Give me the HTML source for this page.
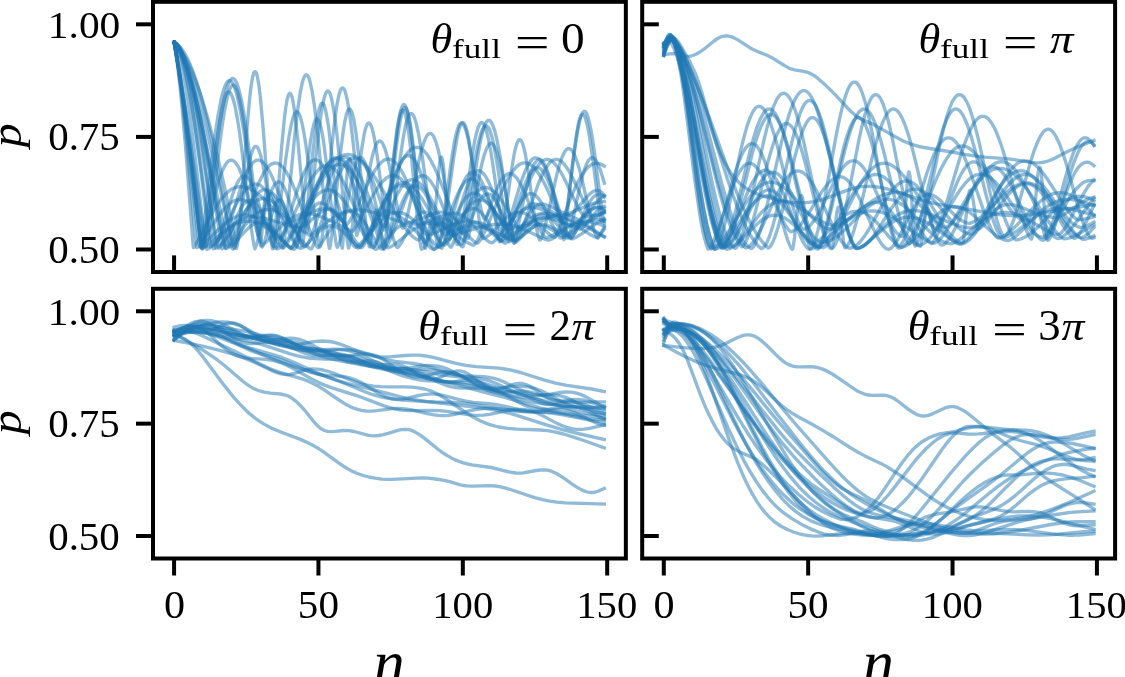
<!DOCTYPE html>
<html><head><meta charset="utf-8"><style>html,body{margin:0;padding:0;background:#fff;overflow:hidden}svg{display:block}</style></head>
<body><svg width="1125" height="677" viewBox="0 0 1125 677">
<rect width="100%" height="100%" fill="#fff"/>
<clipPath id="cTL"><rect x="153.0" y="1.8" width="472.85" height="270.2"/></clipPath>
<clipPath id="cTR"><rect x="642.2" y="1.8" width="472.89999999999986" height="270.2"/></clipPath>
<clipPath id="cBL"><rect x="153.0" y="288.8" width="472.85" height="269.7"/></clipPath>
<clipPath id="cBR"><rect x="642.2" y="288.8" width="472.89999999999986" height="269.7"/></clipPath>
<g clip-path="url(#cTL)" fill="none" stroke="#1f77b4" stroke-opacity="0.5" stroke-width="3.35" stroke-linejoin="round" stroke-linecap="square">
<polyline points="174.1,42.3 177.0,59.2 179.8,77.7 185.6,118.7 191.8,167.3 201.1,247.1 201.9,242.8 203.3,231.6 212.7,152.7 215.6,131.5 218.1,115.3 221.0,100.2 222.4,94.2 223.9,89.2 225.3,85.4 226.8,82.6 227.8,81.3 228.6,80.8 229.3,80.6 230.4,80.8 231.8,82.1 233.3,84.5 234.7,87.9 236.2,92.4 237.6,97.9 240.5,111.7 243.4,128.7 246.3,148.3 255.6,220.6 257.8,235.3 259.3,230.2 264.3,207.7 266.5,199.9 267.9,196.1 269.0,194.3 270.1,193.3 271.2,193.5 272.2,194.6 273.3,196.9 274.4,200.2 275.5,204.5 277.3,213.7 281.6,240.1 283.1,247.4 283.4,246.9 283.8,244.7 285.6,229.9 294.3,140.2 296.4,120.3 298.2,105.9 300.4,91.8 302.2,83.1 303.3,79.3 304.4,76.6 305.5,75.1 306.2,74.8 306.9,74.9 308.0,76.1 309.1,78.5 310.1,82.0 312.3,92.2 314.5,106.5 316.3,121.1 318.4,141.2 326.7,228.1 328.2,240.9 329.3,248.3 329.6,248.4 330.4,245.3 332.5,229.7 339.7,159.9 343.0,133.0 344.8,121.8 346.2,115.2 347.3,111.8 348.0,110.2 348.8,109.3 349.5,109.0 350.2,109.3 350.9,110.2 351.7,111.8 352.7,115.2 354.2,121.7 356.0,132.9 359.2,159.5 366.1,225.4 367.9,239.4 369.3,246.9 369.7,247.0 370.4,243.4 373.3,222.6 374.4,216.1 375.5,211.7 376.2,210.3 376.6,210.1 376.9,210.2 377.6,211.4 378.7,215.5 380.2,224.6 383.1,246.4 383.4,248.3 383.8,249.2 384.1,248.0 385.6,239.3 387.0,227.4 393.9,158.6 397.1,130.7 398.9,118.9 400.4,111.8 401.5,108.0 402.2,106.3 402.9,105.1 403.6,104.5 404.3,104.6 405.1,105.3 405.8,106.5 406.9,109.6 408.3,115.6 410.1,126.1 413.4,151.8 421.0,223.5 422.8,236.9 423.5,240.9 423.8,242.4 424.2,243.1 426.0,240.2 432.1,229.0 435.0,224.5 436.8,222.3 438.6,220.7 440.1,219.7 441.9,219.0 443.7,218.8 445.5,219.1 447.3,219.8 449.5,221.1 453.4,224.3 462.8,233.5 463.9,229.3 465.3,221.6 473.6,168.2 475.8,155.6 477.6,146.4 479.8,137.3 481.6,131.5 482.7,129.0 483.8,127.1 484.8,126.0 485.6,125.7 486.6,125.8 487.7,126.7 488.8,128.3 489.9,130.7 492.1,137.6 494.2,147.3 496.0,157.1 498.2,170.6 506.5,228.9 507.9,237.4 509.0,241.9 510.5,241.0 512.6,239.1 523.5,228.3 528.9,223.7 531.8,221.7 534.6,220.2 537.5,219.0 540.4,218.3 543.3,217.9 546.2,217.9 549.4,218.3 553.1,219.1 560.6,221.6 578.3,228.6 580.1,229.1 580.8,229.0 582.7,227.8 585.2,225.3 593.5,214.8 597.1,210.8 598.9,209.2 600.7,207.9 602.5,206.9 604.3,206.3"/>
<polyline points="174.1,42.3 176.2,53.9 178.8,69.1 183.8,104.0 188.9,143.9 199.0,229.2 201.5,248.3 201.9,248.9 204.0,247.7 206.9,245.6 222.8,232.3 227.1,229.0 231.1,226.4 235.4,224.1 239.8,222.4 244.1,221.4 248.1,221.1 252.0,221.4 256.0,222.4 260.3,224.1 264.7,226.5 268.6,229.1 273.0,232.4 289.2,246.2 292.8,248.7 293.9,249.3 294.3,249.2 295.7,247.3 297.9,242.9 306.5,220.6 308.7,215.6 310.5,212.0 312.7,208.4 314.8,205.7 317.0,203.9 318.1,203.4 319.5,203.0 321.0,202.9 322.8,203.3 324.6,204.1 326.7,205.6 330.4,208.8 338.3,217.1 341.9,220.7 345.2,223.3 346.2,224.0 347.0,224.2 348.0,223.2 349.8,220.8 353.5,214.5 357.1,207.1 368.3,182.6 371.5,176.2 374.8,170.6 378.4,165.4 381.6,162.0 383.4,160.6 384.9,159.8 386.3,159.3 387.7,159.1 389.5,159.1 391.4,159.7 393.2,160.7 395.0,162.1 396.8,164.0 398.6,166.3 402.2,172.1 405.4,178.6 409.0,186.9 419.9,215.2 423.5,224.1 427.1,231.5 428.5,233.7 429.6,234.8 431.1,234.5 434.3,233.2 449.8,225.8 456.7,223.0 460.3,222.0 463.5,221.3 466.8,221.0 470.0,221.2 473.3,221.7 476.2,222.6 479.1,223.9 482.3,225.7 488.4,230.1 500.7,240.5 504.0,242.7 505.0,243.2 505.4,243.1 507.6,241.6 510.1,239.2 521.7,226.3 527.1,221.0 530.0,218.6 532.8,216.7 535.4,215.3 538.3,214.2 541.1,213.5 544.4,213.2 548.0,213.4 551.6,214.0 558.1,215.8 578.0,222.6 582.7,224.0 584.8,224.4 589.5,221.7 604.3,211.6"/>
<polyline points="174.1,42.3 176.6,54.2 179.5,69.7 182.4,87.3 185.3,106.7 190.7,147.3 201.1,231.9 203.3,247.0 204.7,239.6 206.6,227.3 217.0,144.0 219.5,126.0 222.1,110.2 225.0,95.6 227.5,86.3 228.9,82.5 230.0,80.5 231.5,78.8 232.5,78.4 233.6,78.6 235.1,80.0 236.5,82.7 238.0,86.5 240.5,95.9 243.4,110.6 245.9,126.4 248.4,144.5 258.9,227.7 260.7,239.9 262.1,247.0 263.2,245.3 265.0,240.1 271.2,216.8 274.0,207.5 275.5,204.0 276.9,201.5 278.4,200.0 279.5,199.7 280.5,200.0 282.0,201.5 283.1,203.3 284.5,206.5 287.4,215.5 294.3,241.4 296.1,246.2 296.8,247.2 297.1,246.4 298.6,239.3 300.4,226.4 307.3,165.6 310.5,141.0 312.3,130.7 313.8,124.6 314.8,121.5 315.6,120.0 316.3,119.2 317.0,118.9 317.7,119.2 318.4,120.0 319.2,121.5 320.2,124.6 321.7,130.7 323.5,141.0 326.7,165.6 334.0,229.3 335.8,241.6 336.5,245.2 337.2,247.3 337.9,246.5 339.0,244.0 340.1,240.4 341.5,234.4 344.1,221.5 350.2,187.1 353.5,172.1 355.3,165.7 356.7,161.9 358.5,158.7 360.0,157.6 360.7,157.4 361.4,157.6 362.1,158.1 363.2,159.3 364.6,161.9 366.4,166.6 368.3,172.5 370.1,179.4 376.9,209.5 379.4,219.4 380.9,224.1 382.3,227.8 383.4,229.6 383.8,230.0 384.1,229.9 384.9,227.5 385.6,223.9 387.4,211.7 394.2,151.2 397.1,129.3 398.6,121.0 400.0,114.7 401.5,111.0 402.2,110.1 402.5,109.9 403.3,110.1 404.0,110.9 404.7,112.4 405.4,114.6 406.9,121.1 408.3,130.2 409.8,141.5 411.6,158.3 418.4,229.8 420.2,243.7 421.0,247.5 421.3,248.8 421.7,249.2 422.4,248.8 423.5,247.9 425.6,245.0 433.2,231.1 436.1,226.7 437.6,225.0 439.0,223.7 440.4,222.9 441.9,222.6 443.3,222.7 444.8,223.3 446.2,224.4 447.7,225.8 450.9,230.3 456.7,240.0 459.2,243.8 460.7,245.5 461.7,246.4 462.8,246.9 463.2,246.3 463.9,244.0 465.0,239.4 467.2,227.5 476.2,166.0 478.3,152.7 480.1,142.9 482.3,133.3 484.5,126.1 485.6,123.5 486.6,121.7 487.7,120.6 488.4,120.3 489.2,120.3 490.3,120.9 491.3,122.2 492.4,124.3 494.6,130.4 496.7,139.0 498.9,149.8 501.1,162.3 508.3,209.4 510.8,224.6 513.0,235.4 514.1,239.3 514.8,240.9 516.6,233.3 524.9,194.2 527.4,183.8 529.6,176.1 532.1,168.8 534.6,163.4 536.1,161.4 537.2,160.3 538.3,159.7 539.3,159.5 540.4,159.7 541.5,160.3 542.6,161.4 544.0,163.4 546.6,168.7 549.1,176.0 551.2,183.6 553.8,193.8 562.1,232.3 563.9,239.7 564.6,236.1 566.0,225.2 572.5,164.2 575.8,138.4 577.6,127.6 579.0,121.2 580.1,117.7 580.8,116.1 581.6,115.0 582.3,114.5 583.0,114.5 583.7,115.0 584.5,116.0 585.5,118.6 587.3,125.2 589.1,134.4 592.4,156.2 598.9,207.4 601.1,220.9 601.4,222.2 601.8,222.1 602.9,221.3 604.3,219.7"/>
<polyline points="174.1,42.3 176.6,55.9 179.5,73.0 184.9,109.6 190.0,147.9 199.7,227.0 202.6,248.9 203.3,246.7 204.0,243.1 206.2,228.8 215.6,150.7 217.7,134.3 219.9,120.0 222.1,108.3 224.2,99.5 225.3,96.3 226.4,93.9 227.5,92.5 228.6,91.9 229.7,92.2 230.7,93.3 231.8,95.4 232.9,98.3 235.1,106.5 237.6,119.9 239.8,134.1 241.9,150.5 251.3,228.5 253.5,242.8 254.2,246.5 254.9,248.9 256.0,246.2 257.4,241.4 265.7,208.4 267.9,200.8 269.7,195.1 271.9,189.6 274.0,185.4 275.1,183.9 276.2,182.9 277.3,182.2 278.4,182.0 279.1,182.0 280.2,182.5 281.3,183.4 282.4,184.6 284.5,188.3 286.7,193.4 288.8,199.8 291.0,207.1 299.7,239.6 301.5,245.0 301.8,245.8 302.2,245.6 302.9,242.6 303.6,238.3 305.5,224.4 312.7,153.4 315.9,126.4 317.7,115.2 319.2,108.8 320.6,104.7 321.3,103.6 322.1,103.1 322.8,103.3 323.5,104.2 324.2,105.6 325.3,109.0 326.7,115.7 328.6,127.1 331.8,154.7 339.0,227.0 340.8,241.1 341.5,245.4 342.3,248.2 342.6,246.1 343.0,240.8 346.6,179.2 348.0,164.2 348.8,160.3 349.1,159.4 349.5,159.0 349.8,159.4 350.2,160.3 350.9,163.9 351.7,169.8 353.1,186.6 356.0,229.1 356.3,233.6 356.7,235.5 357.4,233.9 358.1,231.5 360.3,222.0 368.6,174.4 370.4,165.0 372.2,156.9 374.0,150.3 375.8,145.3 377.6,142.2 378.7,141.2 379.4,141.0 380.2,141.0 381.2,141.7 382.0,142.5 383.1,144.3 384.9,148.7 386.7,154.7 388.5,162.0 390.3,170.4 398.9,215.6 401.5,225.5 402.2,227.4 402.5,228.1 402.9,228.2 404.0,226.5 405.1,223.6 408.0,213.0 410.5,201.6 418.1,164.6 420.2,155.2 422.0,148.3 424.2,141.5 426.0,137.3 427.1,135.5 428.2,134.2 429.3,133.5 430.0,133.3 431.1,133.6 431.8,134.1 432.9,135.3 433.9,137.2 436.1,142.6 438.3,150.2 440.4,159.8 442.6,171.0 450.2,215.4 452.7,228.9 455.2,239.6 456.3,242.9 457.0,244.3 457.4,244.5 457.8,244.1 458.5,242.5 459.6,238.8 462.1,226.0 464.6,209.5 471.1,162.5 472.9,151.0 474.7,141.0 476.5,132.9 478.3,127.0 479.4,124.6 480.1,123.5 480.9,122.8 481.6,122.5 482.3,122.6 483.0,123.1 483.8,124.1 484.8,126.2 486.6,131.6 488.4,139.2 490.3,148.6 492.1,159.5 498.9,206.3 501.4,221.8 504.0,233.7 505.0,237.0 505.8,238.5 506.1,238.8 507.6,237.4 509.7,234.1 518.4,218.0 522.4,211.6 524.5,208.9 526.3,207.0 528.1,205.6 530.3,204.5 532.1,204.0 534.3,203.9 536.5,204.2 538.6,204.9 542.2,206.5 554.5,213.2 558.8,215.2 561.4,216.1 563.5,215.5 567.9,214.0 585.9,206.4 592.4,203.9 598.9,202.1 604.3,201.5"/>
<polyline points="174.1,42.3 175.9,53.2 178.0,69.2 179.8,84.9 182.0,106.3 185.6,147.4 193.2,245.9 193.6,247.5 195.4,244.7 197.9,240.3 208.4,220.1 212.7,212.2 217.0,205.1 221.0,199.4 225.7,194.0 228.2,191.7 230.4,190.0 232.5,188.7 235.1,187.6 237.2,187.0 239.8,186.7 243.7,186.9 248.1,188.2 252.4,190.3 257.1,193.4 261.4,196.8 266.5,201.4 272.2,207.0 284.9,219.9 287.4,222.2 288.1,222.6 291.0,221.7 295.3,220.0 312.7,211.8 318.4,209.6 321.7,208.9 324.9,208.7 327.8,209.2 330.7,210.2 333.2,211.7 335.4,213.4 337.6,215.5 340.1,218.3 344.8,224.7 355.6,241.3 358.5,244.8 359.6,245.8 360.3,246.1 361.4,245.1 362.8,243.2 366.1,237.7 369.7,230.5 380.9,206.7 384.5,199.9 387.7,194.5 391.4,189.6 395.0,186.0 396.8,184.6 398.6,183.6 400.0,183.1 401.8,182.7 403.3,182.7 405.1,182.9 406.9,183.4 408.7,184.3 412.3,186.9 416.3,191.0 419.9,195.7 423.5,201.0 435.7,221.5 439.4,227.2 443.0,232.1 444.4,233.6 445.5,234.4 446.2,234.3 447.3,233.6 449.8,231.1 452.7,227.7 460.7,217.4 463.2,214.5 465.3,212.4 467.9,210.4 470.0,209.2 472.2,208.6 474.4,208.6 476.5,209.2 478.7,210.5 480.9,212.3 483.0,214.8 487.4,221.0 496.7,236.8 499.3,240.0 500.4,241.0 501.1,241.3 502.2,240.3 503.2,238.8 505.8,234.3 516.2,210.8 518.8,205.7 520.9,201.9 523.5,198.3 525.6,195.9 528.1,194.2 530.3,193.6 532.5,193.8 535.0,195.1 537.5,197.4 540.1,200.7 542.6,204.8 545.1,209.5 553.1,226.2 555.9,231.8 558.8,236.4 559.9,237.6 560.6,238.1 562.8,237.4 565.7,235.8 580.1,224.9 583.7,222.7 587.3,220.9 591.7,219.7 595.6,219.3 600.0,219.8 604.3,221.1"/>
<polyline points="174.1,42.3 175.9,51.7 178.0,65.3 180.2,81.6 182.4,100.2 186.3,139.1 194.3,224.3 196.8,247.5 197.2,247.4 198.6,246.0 201.9,241.9 217.0,218.4 221.0,212.9 224.6,208.5 228.6,204.5 232.5,201.7 234.7,200.6 236.5,200.0 238.3,199.6 240.1,199.5 241.9,199.7 243.7,200.1 245.5,200.8 247.7,202.0 251.3,204.7 255.3,208.7 258.9,213.2 262.9,218.8 274.4,237.3 278.0,242.7 281.3,246.9 282.4,248.0 283.1,248.3 284.2,247.3 285.6,245.6 288.8,240.7 292.5,234.5 304.7,212.1 308.7,205.6 312.3,200.5 316.3,195.9 318.4,193.9 320.2,192.5 322.4,191.3 324.2,190.5 326.0,190.0 327.8,189.9 329.6,190.0 331.4,190.4 333.2,191.1 335.4,192.3 337.2,193.7 339.4,195.6 343.3,200.1 347.3,205.6 351.3,212.0 363.6,234.1 367.5,240.9 371.1,246.0 372.6,247.5 372.9,247.7 373.3,247.6 374.4,246.3 375.5,244.6 378.4,238.8 381.6,231.2 391.7,206.0 395.0,198.8 398.2,192.5 401.8,186.8 405.1,183.0 406.9,181.6 408.7,180.5 410.1,180.0 411.9,179.7 413.4,179.8 414.8,180.1 416.3,180.7 418.1,181.9 421.3,184.8 424.9,189.3 428.2,194.3 431.4,200.1 442.2,221.3 445.9,228.0 449.1,233.1 450.2,234.5 451.3,235.4 453.8,235.0 457.8,234.0 476.9,228.2 485.6,225.9 489.9,225.1 494.2,224.5 498.6,224.2 502.5,224.3 506.5,224.6 510.5,225.2 514.4,226.2 518.4,227.4 526.3,230.6 542.6,238.2 546.2,239.6 548.7,240.2 550.9,239.5 553.4,238.0 563.5,230.3 568.2,227.3 570.7,226.1 572.9,225.3 575.1,224.8 577.6,224.7 579.8,224.8 581.9,225.3 586.3,226.8 590.6,229.1 600.3,235.0 604.3,236.9"/>
<polyline points="174.1,42.3 176.2,55.1 178.8,71.7 183.5,106.8 188.1,146.4 197.2,227.1 199.7,247.1 201.5,245.9 204.4,243.5 220.3,227.8 224.6,224.0 228.6,220.9 232.9,218.2 237.2,216.2 241.6,215.0 245.5,214.7 249.5,215.1 253.8,216.4 257.8,218.4 262.1,221.2 266.1,224.4 270.4,228.4 286.3,244.8 289.6,247.6 290.7,248.3 291.0,248.3 292.1,246.9 293.5,244.5 296.8,238.0 300.8,228.8 313.8,197.2 318.1,187.8 322.1,180.3 326.4,173.6 328.6,170.8 330.7,168.5 332.9,166.8 335.0,165.5 337.2,164.7 339.0,164.4 340.8,164.5 343.0,165.1 345.2,166.2 347.3,167.8 349.5,169.9 351.7,172.4 353.8,175.4 356.3,179.4 360.3,186.8 365.0,196.8 378.4,228.9 382.3,238.0 385.9,245.0 387.4,247.2 388.1,247.8 391.0,246.7 394.6,244.4 398.6,241.3 409.8,232.2 416.3,227.7 419.9,225.8 423.1,224.5 426.7,223.6 430.0,223.3 433.2,223.4 436.5,224.0 439.7,225.0 443.3,226.5 446.9,228.5 450.5,230.8 463.2,239.8 467.5,242.6 471.8,244.8 473.3,245.2 474.0,244.9 475.5,243.4 476.9,241.2 478.7,237.7 480.5,233.6 484.1,224.0 493.1,198.2 496.0,190.9 498.6,185.3 501.4,180.1 504.0,176.7 506.5,174.5 507.9,173.8 509.0,173.5 510.1,173.5 511.5,173.8 513.0,174.5 514.4,175.6 517.0,178.4 519.8,182.9 522.4,187.7 525.3,194.1 535.0,218.5 538.6,226.8 542.2,233.6 544.0,236.1 545.5,237.3 546.2,237.5 547.6,237.3 551.6,235.8 555.6,233.7 565.3,227.6 569.7,225.2 574.7,223.0 579.4,221.7 581.9,221.3 584.8,221.1 587.7,221.3 590.6,221.7 596.7,223.3 604.3,226.1"/>
<polyline points="174.1,42.3 176.6,55.4 179.1,70.3 184.2,105.1 188.5,139.2 198.3,222.3 201.5,247.8 201.9,247.9 203.7,241.1 214.1,196.8 216.7,187.4 219.2,179.1 222.1,171.3 225.0,165.4 226.4,163.3 227.8,161.7 229.3,160.6 230.7,160.2 232.2,160.3 233.6,161.0 235.1,162.2 236.5,164.0 238.0,166.3 239.4,169.1 242.6,177.2 245.2,185.0 247.7,193.9 250.9,206.6 258.9,239.4 260.7,245.8 261.1,245.8 263.2,244.5 266.5,241.7 280.9,226.9 284.5,223.5 287.8,220.8 291.7,218.1 295.3,216.1 299.0,214.7 302.6,213.9 306.2,213.6 310.1,213.8 314.5,214.6 318.8,215.9 322.8,217.4 327.5,219.5 347.0,229.1 350.9,230.7 352.7,231.2 354.5,229.0 357.4,224.3 371.5,198.1 375.5,191.3 378.7,186.4 382.3,181.8 385.6,178.7 388.8,176.5 390.6,175.8 392.1,175.5 394.2,175.5 396.0,175.9 398.2,177.0 400.0,178.3 401.8,180.0 404.0,182.6 405.8,185.2 408.0,188.8 411.6,195.9 415.2,204.2 429.3,240.6 431.8,246.2 433.6,249.1 434.3,249.1 436.1,248.3 440.1,245.9 443.7,243.1 453.8,234.7 459.9,230.4 463.2,228.7 466.1,227.5 469.0,226.6 472.2,226.1 475.1,225.9 478.3,226.2 481.6,226.8 484.8,227.8 491.7,230.6 508.7,238.8 513.4,240.5 515.2,240.9 515.9,240.9 518.0,239.4 520.6,236.6 530.0,223.8 533.9,219.2 536.1,217.2 538.3,215.7 540.4,214.8 542.2,214.4 544.4,214.5 546.6,215.2 548.7,216.3 550.9,217.9 555.2,222.3 565.7,235.1 568.2,237.5 569.3,238.3 570.4,238.7 571.5,238.0 572.5,236.7 575.1,232.6 577.6,227.4 586.6,207.5 589.5,202.3 592.0,198.6 593.8,196.7 595.3,195.5 596.7,194.8 598.2,194.4 599.6,194.4 601.1,194.8 602.5,195.6 604.3,197.1"/>
<polyline points="174.1,42.3 180.6,79.3 187.1,119.6 194.6,170.2 205.5,246.0 205.8,246.9 206.6,244.5 207.6,239.1 209.8,224.9 212.3,205.3 219.9,142.3 222.1,126.3 224.2,112.5 226.8,99.5 228.9,91.5 230.0,88.7 231.1,86.6 232.2,85.5 233.3,85.1 234.3,85.6 235.4,86.9 236.5,89.0 237.6,92.0 239.8,100.1 242.3,113.1 244.5,126.8 246.6,142.4 256.0,216.9 257.8,229.0 259.6,238.7 260.7,242.2 261.1,240.5 261.8,234.0 263.9,207.9 265.0,197.2 266.1,191.3 266.5,190.6 266.8,190.7 267.6,193.0 268.6,201.7 271.5,240.2 272.2,247.5 272.6,248.8 273.7,242.5 275.5,224.8 281.6,147.3 284.2,120.4 285.6,108.6 287.0,100.0 288.5,94.8 289.2,93.6 289.9,93.2 290.3,93.4 291.0,94.4 291.7,96.2 292.5,98.9 293.9,106.6 295.3,117.1 297.9,141.0 304.4,212.6 306.2,227.5 306.9,231.4 307.3,232.0 308.3,225.6 309.8,214.1 317.0,146.2 320.6,117.3 322.4,106.2 324.2,97.9 325.3,94.4 326.0,92.7 327.1,91.2 327.8,91.0 328.6,91.3 328.9,91.6 329.6,92.7 330.4,94.5 331.4,98.1 333.2,106.9 335.4,121.6 337.2,136.9 339.0,154.5 345.9,228.0 347.3,241.0 348.4,248.1 348.8,247.9 349.1,246.8 349.8,243.7 352.0,229.9 359.2,167.4 361.8,148.2 364.3,133.7 365.7,128.0 366.8,125.1 367.9,123.4 368.6,123.0 369.3,123.1 370.4,124.3 371.1,125.7 372.2,128.8 374.0,136.4 375.8,146.6 377.6,158.9 385.6,220.4 387.7,232.9 388.5,235.7 389.2,237.4 390.3,232.9 392.1,221.5 399.7,161.7 403.3,137.3 405.4,126.3 407.2,119.5 409.0,115.2 410.1,113.9 410.8,113.5 411.6,113.6 412.6,114.4 413.4,115.5 414.5,117.8 416.3,123.6 418.4,133.3 420.2,143.5 422.4,157.6 430.0,212.4 431.8,223.2 432.9,227.9 433.2,228.2 433.6,226.6 434.7,217.9 437.9,179.0 439.4,164.9 440.1,160.3 440.8,157.6 441.2,157.1 441.5,157.2 441.9,157.8 443.0,163.1 444.1,173.1 448.0,227.7 448.7,235.2 449.5,239.5 449.8,239.3 450.9,237.3 453.4,230.7 456.0,222.7 463.2,197.9 467.2,186.1 469.3,180.9 471.1,177.3 472.9,174.4 474.7,172.4 475.8,171.5 477.3,170.8 478.7,170.7 480.1,171.0 481.6,171.9 483.0,173.2 484.5,174.9 485.9,177.0 488.8,182.4 491.7,188.9 503.2,218.5 505.4,223.0 506.5,224.8 507.2,225.6 508.3,223.4 510.1,218.3 519.8,185.9 522.4,178.3 524.9,171.6 527.4,166.1 530.0,161.9 531.4,160.1 532.5,159.1 533.9,158.2 535.0,157.9 536.1,157.9 537.5,158.2 539.0,159.1 540.4,160.5 542.9,164.1 545.8,169.7 548.4,176.0 551.2,184.2 561.7,218.0 563.5,222.7 564.2,223.9 565.3,219.4 567.1,208.2 574.3,152.4 577.6,131.2 579.4,122.2 580.8,116.8 581.9,113.9 582.7,112.6 583.4,111.7 584.1,111.3 584.8,111.3 585.5,111.8 586.3,112.8 587.3,115.2 589.1,121.3 591.0,130.0 592.8,140.8 594.6,153.5 601.4,206.8 603.2,218.3 604.3,223.3"/>
<polyline points="174.1,42.3 175.5,44.4 177.0,47.5 178.4,51.6 179.8,56.6 182.7,69.4 186.0,87.9 188.9,107.4 191.8,129.3 203.3,225.5 205.5,241.2 206.9,249.4 208.0,248.9 209.4,248.0 213.1,245.0 226.8,230.6 232.9,225.0 236.2,222.5 239.0,220.6 241.9,219.1 244.8,218.0 248.4,217.1 252.0,216.7 256.0,216.8 260.3,217.3 267.2,219.0 288.8,225.4 296.1,227.2 300.0,227.9 302.6,226.8 306.2,224.4 317.7,214.6 321.7,211.6 323.9,210.4 325.7,209.6 327.5,209.1 328.9,208.9 331.4,209.3 334.0,210.4 336.5,212.5 339.0,215.4 341.2,218.6 343.7,223.0 351.7,238.7 354.2,243.3 356.7,246.9 357.8,247.9 358.1,248.1 358.5,248.0 360.3,246.8 362.1,244.8 364.3,241.8 366.4,238.2 370.8,229.8 382.0,206.5 385.2,200.4 388.5,195.2 391.7,191.0 395.0,187.8 396.8,186.6 398.2,186.0 399.7,185.5 401.1,185.4 402.5,185.5 404.0,185.8 405.4,186.4 407.2,187.5 410.5,190.5 413.7,194.5 417.0,199.4 420.2,205.1 431.8,228.0 436.1,235.8 438.3,239.2 440.4,242.1 442.2,244.0 444.1,245.1 444.8,245.1 446.2,243.8 449.5,239.5 453.1,233.4 462.5,216.3 465.3,211.7 468.2,207.6 471.1,204.3 474.0,201.9 476.9,200.4 479.4,199.8 482.3,200.1 485.2,201.3 488.1,203.4 491.0,206.2 493.9,209.7 496.7,213.7 506.5,229.0 509.7,233.7 513.0,237.7 514.4,239.1 515.5,239.7 517.3,238.9 520.6,236.9 536.1,224.9 540.1,222.2 544.0,219.8 548.0,217.8 552.0,216.3 555.9,215.3 559.9,214.9 563.9,215.0 568.2,215.7 572.5,217.1 576.9,218.9 580.8,221.1 584.8,223.5 599.3,233.6 604.3,236.7"/>
<polyline points="174.1,42.3 174.8,42.5 175.9,43.2 177.7,45.4 179.5,48.9 181.3,53.6 183.1,59.6 184.9,66.8 186.7,75.2 188.9,86.6 192.1,106.4 195.7,131.6 200.1,165.2 208.4,233.0 210.2,246.4 210.5,247.0 212.3,246.1 214.5,244.0 216.7,241.2 219.2,237.3 223.9,228.8 235.8,204.9 239.0,199.1 242.3,194.0 245.5,189.8 248.4,187.0 250.2,185.7 251.7,184.9 254.6,184.1 256.0,184.0 257.8,184.4 259.3,184.9 261.1,185.9 264.3,188.7 267.9,193.0 271.2,198.0 274.8,204.5 287.4,230.3 292.1,239.0 294.6,242.9 296.8,245.7 299.0,247.7 300.0,248.3 300.8,248.5 301.8,248.1 303.3,247.3 306.2,245.0 309.1,242.1 317.0,233.6 321.7,229.3 324.2,227.7 326.4,226.6 328.6,226.0 330.7,225.7 332.9,225.9 335.0,226.5 337.2,227.5 339.4,228.9 344.1,232.8 352.7,241.8 356.0,244.8 359.2,247.1 360.7,247.7 361.4,247.6 362.5,246.8 363.6,245.7 366.1,241.8 375.1,223.6 377.3,219.7 379.1,217.0 381.2,214.3 383.4,212.4 385.6,211.2 387.7,210.8 390.3,211.1 392.8,212.1 395.7,213.7 403.3,219.0 407.2,221.4 411.6,223.5 413.7,224.2 415.2,224.4 420.2,223.7 426.4,222.0 432.1,219.9 443.0,215.5 448.0,213.9 450.9,213.3 453.4,213.2 456.0,213.3 458.5,213.9 460.7,214.7 462.8,215.8 467.2,219.0 471.8,223.6 481.2,234.6 485.2,238.8 487.4,240.7 489.2,241.9 491.0,242.7 492.1,242.8 493.1,242.2 494.6,241.0 497.8,237.6 510.1,221.9 515.2,216.2 517.7,213.7 520.2,211.7 522.7,210.0 525.3,208.8 528.9,207.7 532.5,207.4 536.1,207.8 540.1,208.9 543.7,210.5 547.6,212.5 561.0,220.5 566.0,223.4 570.0,225.2 572.5,225.9 574.7,224.6 578.0,221.7 581.9,217.7 595.6,202.9 600.3,198.6 604.3,195.5"/>
<polyline points="174.1,42.3 175.9,44.8 177.7,48.3 179.5,52.7 181.3,58.1 184.9,71.8 188.9,90.7 191.8,106.8 195.0,126.8 199.0,153.4 209.1,224.2 212.0,242.3 213.1,248.0 213.4,248.8 214.1,248.3 214.9,247.5 216.3,245.2 217.7,242.0 219.5,237.4 222.8,227.3 231.1,199.2 233.3,192.7 235.4,187.0 237.6,182.4 239.8,178.9 241.9,176.8 243.0,176.2 244.1,176.0 245.9,176.3 247.0,177.0 248.1,178.1 250.2,181.1 252.4,185.3 254.6,190.6 257.1,197.9 266.1,228.2 269.7,238.9 271.9,243.9 273.7,247.0 274.4,247.8 275.1,248.3 275.5,248.2 276.2,247.7 277.7,246.0 279.5,242.8 281.3,238.9 283.4,233.4 287.4,221.7 297.5,189.7 300.4,181.5 303.3,174.3 306.2,168.4 309.1,163.9 310.5,162.3 311.9,161.0 313.4,160.2 314.8,159.8 316.3,159.9 317.7,160.4 319.2,161.3 320.6,162.6 323.5,166.5 326.7,172.6 329.6,179.4 332.9,188.3 343.7,222.1 347.7,233.5 349.8,238.9 352.0,243.3 353.8,246.0 355.3,247.3 356.0,247.2 357.4,246.3 361.0,243.0 365.0,238.7 376.6,225.1 380.2,221.3 383.4,218.4 387.0,215.7 390.6,213.8 394.2,212.6 397.5,212.3 400.7,212.6 404.3,213.8 407.6,215.6 411.2,218.2 414.8,221.5 418.4,225.3 430.0,238.9 433.9,243.2 437.6,246.5 439.0,247.3 439.7,247.3 440.8,246.5 442.2,244.8 445.5,239.3 448.7,232.3 457.4,212.3 459.9,207.1 462.5,202.6 465.3,198.4 467.9,195.8 470.4,194.0 472.9,193.2 475.1,193.2 477.3,193.8 479.8,195.2 482.3,197.3 484.8,199.8 487.4,202.7 497.1,215.3 501.4,220.4 503.6,222.5 505.8,224.3 507.6,225.4 508.7,225.7 509.7,224.8 511.2,222.9 513.0,219.9 514.8,216.3 518.4,208.0 528.5,183.0 531.4,176.7 534.3,171.1 537.2,166.5 540.1,163.0 542.9,160.6 544.4,159.9 545.8,159.5 547.3,159.5 548.7,159.7 550.2,160.2 552.0,161.3 553.4,162.4 555.2,164.2 558.5,168.5 561.4,173.2 564.6,179.2 574.7,200.5 578.3,207.6 581.6,213.1 584.1,216.3 584.8,216.9 585.5,217.1 589.5,216.5 596.7,214.7 604.3,212.1"/>
<polyline points="174.1,42.3 175.2,42.6 176.2,43.2 177.3,44.1 178.8,45.8 180.9,49.4 183.5,55.2 185.6,61.4 188.1,70.1 190.7,80.3 193.2,92.0 195.7,105.0 198.6,121.4 204.0,156.3 209.8,198.5 215.9,248.2 217.4,247.6 219.5,246.0 222.1,243.5 224.6,240.5 229.3,234.0 241.9,215.3 245.5,210.6 249.1,206.4 252.8,203.1 256.4,200.6 260.0,199.0 261.8,198.7 263.6,198.5 265.4,198.7 267.2,199.1 270.8,200.6 274.4,203.2 278.0,206.6 281.6,210.8 285.2,215.6 298.2,235.2 302.9,241.7 305.5,244.7 307.6,246.8 309.8,248.4 311.2,249.0 311.6,248.7 312.7,246.5 315.6,239.3 330.4,195.5 334.3,184.9 338.3,175.7 342.3,168.2 344.4,164.9 346.2,162.6 348.4,160.5 350.2,159.2 352.0,158.3 353.8,158.0 355.6,158.1 357.8,158.8 359.6,160.0 361.8,161.9 363.6,164.0 365.7,167.1 367.9,170.8 370.1,175.0 374.0,184.0 378.0,194.3 390.3,230.3 393.5,239.3 396.0,245.4 397.1,247.4 397.5,247.5 399.3,245.7 401.5,242.6 411.2,224.7 413.4,221.2 415.5,218.1 417.7,215.6 419.9,213.7 422.0,212.5 424.2,212.1 426.4,212.5 428.5,213.6 430.7,215.5 432.9,218.0 435.0,221.0 437.2,224.5 447.3,242.8 449.8,246.3 450.9,247.3 451.3,247.2 454.5,239.9 465.0,213.3 467.9,206.8 470.8,201.1 474.4,195.3 477.6,191.4 479.1,190.1 480.9,188.8 482.3,188.1 484.1,187.6 485.6,187.5 487.4,187.8 488.8,188.2 490.6,189.1 493.9,191.5 497.5,195.2 500.7,199.4 504.3,204.7 508.3,211.2 517.3,226.6 519.1,229.4 519.5,229.9 519.8,230.0 520.9,228.8 522.0,227.0 525.3,219.9 528.5,211.4 537.5,186.2 540.4,179.0 543.3,172.7 546.6,166.9 549.4,163.0 550.9,161.6 552.3,160.5 553.8,159.8 555.2,159.4 556.7,159.3 558.1,159.6 559.6,160.2 561.0,161.1 562.4,162.3 564.2,164.3 567.5,168.7 570.4,173.6 573.6,179.9 586.3,206.9 589.1,212.1 591.7,215.6 592.8,216.4 595.3,216.0 599.6,214.8 604.3,213.0"/>
<polyline points="174.1,42.3 175.9,43.3 177.7,45.3 179.5,48.3 181.6,53.0 183.5,58.0 185.6,65.1 187.8,73.4 190.0,82.8 193.9,102.7 197.9,125.3 209.8,200.8 213.4,222.6 216.7,239.8 218.1,245.9 218.8,248.1 219.9,247.3 221.7,244.6 223.5,240.9 225.7,235.4 229.7,223.5 239.8,190.7 243.0,181.4 245.9,174.3 248.8,168.4 251.7,164.1 253.1,162.5 254.6,161.3 256.0,160.5 257.4,160.2 258.5,160.1 260.0,160.5 261.4,161.2 262.9,162.3 265.7,165.5 269.0,170.6 271.9,176.4 275.1,183.8 285.6,210.7 289.9,221.0 292.1,225.4 293.9,228.5 295.7,230.9 297.1,232.0 297.5,232.0 298.2,231.4 299.7,229.4 301.5,226.3 303.6,221.7 307.6,211.9 319.2,181.3 322.8,173.1 326.0,166.9 327.8,164.0 329.6,161.7 331.4,159.9 333.2,158.6 335.0,157.9 336.9,157.9 338.7,158.4 340.1,159.3 342.6,161.9 345.2,165.6 347.7,170.4 350.2,176.3 352.7,183.0 355.6,191.6 364.6,221.3 368.3,232.4 370.1,237.3 371.9,241.5 373.3,244.3 374.8,246.1 375.1,245.9 375.5,245.0 378.0,236.5 389.9,191.3 392.8,181.7 395.3,174.3 398.6,166.3 401.5,161.0 403.3,158.5 404.7,157.1 406.2,156.1 407.6,155.6 409.0,155.6 410.8,156.3 412.3,157.4 414.1,159.4 415.5,161.6 417.3,164.9 419.1,168.9 421.0,173.5 423.5,181.0 426.4,190.7 430.0,204.1 438.6,238.5 441.2,247.1 441.5,248.1 441.9,248.2 443.7,244.7 446.2,237.5 456.7,201.1 459.2,193.2 461.4,187.2 463.9,181.3 466.4,176.9 467.9,175.0 469.0,173.9 470.0,173.1 471.5,172.4 472.6,172.3 474.0,172.5 475.1,173.1 476.5,174.2 479.1,177.2 481.9,182.1 484.5,187.6 487.4,194.9 496.4,220.8 499.3,228.5 501.8,234.2 502.9,236.0 503.2,236.4 503.6,236.5 505.0,235.5 506.9,232.9 508.7,229.4 510.5,225.2 514.1,215.5 522.7,189.9 525.3,183.3 527.4,178.4 529.6,174.2 531.8,171.0 533.9,168.8 535.0,168.1 536.1,167.7 537.5,167.6 538.6,167.8 539.7,168.3 541.1,169.4 543.7,172.5 546.6,177.7 549.1,183.4 551.6,190.1 560.6,217.2 563.9,226.1 565.7,230.4 567.5,233.9 568.9,236.1 570.4,237.5 571.1,237.6 573.3,235.2 585.2,217.1 588.4,213.0 591.3,210.2 593.1,209.0 594.6,208.2 596.4,207.7 597.8,207.6 599.3,207.7 601.1,208.3 602.5,209.1 604.3,210.4"/>
<polyline points="174.1,42.3 175.2,42.9 176.6,44.1 179.1,47.1 181.6,51.4 184.5,57.7 187.1,64.6 190.0,73.7 192.5,82.9 195.4,94.7 200.8,120.1 206.9,153.4 213.1,190.5 221.7,247.5 222.1,248.8 223.2,247.8 224.2,246.3 226.8,241.5 229.3,235.6 236.5,217.5 240.5,209.1 242.6,205.5 244.8,202.8 247.0,201.1 248.8,200.4 250.6,200.3 252.8,201.1 254.6,202.4 256.7,204.7 258.9,207.7 261.4,211.8 270.4,229.2 274.0,235.3 275.9,237.7 277.3,239.0 278.0,239.2 279.5,238.3 281.3,236.6 283.1,234.3 285.2,231.0 287.8,226.6 292.5,217.3 305.1,190.4 308.7,183.5 312.3,177.4 315.9,172.4 319.5,168.7 321.3,167.3 323.1,166.3 324.9,165.8 326.4,165.6 328.2,165.7 330.0,166.2 331.8,167.1 334.0,168.7 335.8,170.5 337.6,172.7 341.5,178.6 345.2,185.4 349.1,194.0 362.1,226.1 366.8,236.7 369.3,241.7 371.5,245.2 373.7,248.0 375.5,249.3 376.2,249.3 377.6,248.6 380.9,246.0 384.1,242.4 392.1,232.8 396.4,228.5 398.6,226.9 400.7,225.7 402.9,225.0 404.7,224.8 406.5,225.0 408.7,225.7 410.5,226.6 412.6,228.1 414.8,230.0 417.3,232.7 426.0,243.1 429.3,246.6 431.1,248.1 432.9,249.2 433.9,249.5 434.7,249.1 436.1,247.6 437.6,245.4 439.4,242.0 441.2,238.0 444.4,229.7 453.8,203.5 456.7,196.4 459.2,190.9 462.1,185.9 465.0,182.1 467.5,180.1 469.0,179.4 470.4,179.1 472.6,179.2 475.1,180.4 477.6,182.5 480.5,185.9 483.0,189.6 485.9,194.5 496.0,213.8 500.0,220.7 502.2,224.0 504.3,226.7 506.1,228.5 507.6,229.4 508.3,229.5 510.8,229.1 516.6,227.5 522.0,225.5 535.0,220.2 541.1,218.1 546.9,216.7 552.0,216.2 555.9,216.4 559.6,217.0 563.2,218.0 567.1,219.6 570.7,221.5 574.3,223.7 585.9,231.8 589.9,234.4 593.5,236.3 596.7,237.4 597.4,237.5 598.5,236.4 601.1,232.6 604.3,227.1"/>
<polyline points="174.1,42.3 176.6,44.9 179.1,48.6 181.6,53.3 184.2,59.0 186.7,65.8 189.6,74.7 192.1,83.5 195.0,94.6 199.7,114.9 204.7,139.3 210.5,169.6 222.4,235.0 225.0,247.6 225.3,248.2 226.8,247.0 228.2,245.3 231.8,239.5 235.4,232.6 246.3,210.0 249.5,204.1 252.4,199.4 255.6,195.2 258.9,192.1 260.7,190.9 262.1,190.2 263.6,189.8 265.0,189.7 266.5,189.8 267.9,190.2 270.8,191.7 273.7,194.3 276.9,198.2 280.2,203.2 283.4,208.9 295.0,232.2 299.0,239.5 301.1,242.9 303.3,245.6 304.7,246.8 305.1,246.8 305.8,246.4 307.3,244.7 309.1,241.4 310.9,237.4 312.7,232.6 316.3,221.8 326.7,187.4 329.6,179.1 332.5,171.8 335.4,165.8 338.3,161.3 339.7,159.7 341.2,158.4 342.6,157.6 344.1,157.1 345.2,157.1 346.6,157.3 348.0,158.0 349.5,159.0 352.4,162.1 355.3,166.4 358.1,171.8 361.4,178.8 372.6,206.2 376.9,215.8 379.1,219.9 381.2,223.4 383.4,225.9 384.9,226.7 385.6,225.2 386.7,220.8 388.8,207.6 391.0,191.0 396.4,146.0 399.3,126.0 400.7,118.2 402.2,112.5 403.6,108.9 404.3,107.9 405.1,107.6 405.8,107.9 406.5,108.9 408.0,112.6 409.4,118.8 411.2,129.8 414.1,153.6 419.5,208.0 421.7,227.9 423.8,243.2 424.6,246.5 425.3,248.3 425.6,247.7 426.4,245.1 428.9,230.7 430.0,225.5 431.1,222.4 431.8,221.8 432.5,222.4 433.6,225.4 437.6,244.8 438.3,246.4 438.6,246.0 439.4,244.1 441.2,236.1 443.0,225.0 450.5,166.8 452.4,154.2 454.2,143.3 456.0,134.5 457.8,128.1 458.8,125.5 459.6,124.2 460.3,123.4 461.4,122.9 462.1,123.1 462.8,123.7 463.5,124.7 464.6,126.9 466.1,131.0 467.9,137.9 471.1,153.9 479.1,199.6 480.9,208.3 482.7,215.2 483.4,217.2 484.1,218.6 484.5,218.9 484.8,218.7 485.9,217.6 487.0,216.0 491.0,208.3 491.7,207.7 492.1,207.6 492.8,208.1 493.9,210.7 494.9,215.6 498.2,237.1 499.3,241.7 499.6,241.9 500.0,241.4 501.1,238.4 503.2,227.9 505.4,213.8 511.2,171.7 514.1,154.5 515.5,148.0 517.0,143.2 518.4,140.4 519.5,139.6 520.2,139.7 520.9,140.3 522.4,143.0 523.8,147.6 525.3,154.0 528.1,170.9 533.6,209.6 535.7,223.8 537.9,234.9 539.0,238.6 539.7,240.0 540.1,240.1 540.4,239.7 541.9,236.8 543.3,232.6 544.8,227.6 547.6,215.7 555.6,179.8 557.7,171.1 559.9,163.5 562.1,157.3 564.2,152.7 565.3,151.0 566.4,149.7 567.5,148.9 568.2,148.7 569.3,148.7 570.4,149.1 571.5,150.0 572.9,151.9 575.1,156.2 577.6,163.2 579.8,170.6 581.9,179.1 591.7,221.5 593.8,229.5 596.0,235.6 597.1,237.7 597.4,238.1 597.8,238.1 600.3,235.0 604.3,229.1"/>
<polyline points="174.1,42.3 176.2,45.4 178.4,49.2 180.6,53.8 183.1,60.0 185.3,66.2 187.8,74.2 192.5,91.4 196.8,109.6 201.5,131.3 215.6,202.5 219.9,223.5 223.9,240.7 225.7,247.2 226.0,248.2 226.4,248.7 228.6,247.0 231.5,243.7 245.2,225.1 248.8,220.7 252.4,216.9 256.4,213.6 260.0,211.4 263.6,210.0 267.6,209.4 270.8,209.6 274.0,210.4 277.7,211.9 281.3,213.9 284.5,216.0 288.5,219.0 304.4,232.2 307.6,234.4 309.8,235.4 311.6,234.4 314.5,232.3 328.6,221.0 335.0,216.5 339.0,214.3 343.0,212.5 346.6,211.2 350.6,210.3 354.9,209.8 359.6,209.8 364.3,210.4 369.7,211.5 374.8,212.8 380.5,214.7 400.4,222.0 404.3,223.3 409.0,222.6 415.5,220.8 421.0,218.7 431.1,214.4 435.0,213.0 439.4,212.2 441.5,212.1 443.3,212.3 445.9,212.9 448.4,214.0 450.9,215.6 453.4,217.6 456.0,220.1 458.5,223.0 467.5,234.6 471.1,238.8 472.9,240.5 474.7,242.0 476.5,242.9 477.6,243.1 478.7,242.2 480.5,239.7 482.7,235.9 484.8,231.5 488.8,222.5 501.4,192.1 505.4,183.6 509.0,176.8 513.0,170.8 516.6,166.6 518.8,164.9 520.6,163.8 522.4,163.1 524.2,162.8 526.0,162.8 527.8,163.3 529.6,164.1 531.8,165.6 533.6,167.2 535.7,169.6 537.9,172.5 540.1,175.8 543.7,182.1 547.6,190.1 560.3,218.7 564.6,227.9 568.6,235.1 570.0,237.1 571.5,238.7 572.2,238.9 573.3,238.6 578.0,236.2 582.7,233.1 596.0,223.6 600.3,220.9 604.3,218.8"/>
<polyline points="174.1,42.3 176.2,45.3 178.8,49.6 180.9,54.0 183.5,59.8 186.0,66.5 188.5,73.9 193.6,91.0 198.3,109.2 203.3,130.8 218.8,203.0 223.5,223.9 227.8,241.0 229.3,245.7 229.7,246.7 230.0,247.0 231.8,245.8 234.3,243.4 245.2,231.2 250.2,226.4 253.1,224.3 255.6,223.0 258.5,222.1 261.1,221.9 263.6,222.3 266.1,223.2 268.6,224.7 271.5,227.0 276.6,232.3 287.0,245.0 289.6,247.6 291.4,248.8 292.1,247.9 293.5,245.4 296.8,238.0 300.4,228.6 313.0,193.9 317.0,184.2 321.0,175.6 325.3,168.0 327.5,165.0 329.3,162.8 331.4,160.8 333.2,159.5 335.0,158.7 336.9,158.3 338.7,158.3 340.8,158.8 343.0,160.0 345.2,161.8 347.3,164.1 349.5,167.0 351.7,170.4 353.8,174.3 357.8,182.6 362.1,193.0 375.1,228.5 378.7,237.9 382.0,245.2 383.4,247.8 384.1,248.6 385.6,247.5 387.0,245.6 388.8,242.4 391.0,237.9 395.0,228.0 405.1,200.6 408.0,193.6 410.5,188.2 413.4,183.1 415.9,179.7 417.3,178.2 418.8,177.0 420.2,176.2 421.3,175.9 422.8,175.7 424.2,175.9 425.6,176.5 427.4,177.7 430.3,180.8 433.6,185.8 436.5,191.4 439.7,198.7 449.8,224.4 453.8,233.7 456.0,238.1 457.8,241.1 459.6,243.5 461.0,244.6 461.4,244.4 462.1,243.3 464.3,238.6 473.3,214.5 477.6,204.5 479.8,200.5 481.9,197.4 484.1,195.2 485.9,194.2 487.4,193.9 488.4,194.0 489.5,194.3 491.0,195.2 493.5,197.7 496.0,201.5 498.6,206.4 501.1,212.1 510.8,237.2 513.0,241.8 514.1,243.2 515.5,241.3 517.3,238.1 525.3,221.3 529.2,214.0 531.4,210.7 533.2,208.5 535.0,206.7 537.2,205.2 539.0,204.4 541.1,204.0 543.3,204.1 545.8,204.7 549.4,206.1 560.6,211.6 569.7,215.3 571.5,214.2 574.0,211.8 577.2,208.2 587.0,196.8 590.2,193.6 592.8,191.7 594.6,190.9 596.0,190.5 597.4,190.4 598.9,190.7 600.3,191.4 601.8,192.5 604.3,195.3"/>
<polyline points="174.1,42.3 175.5,43.0 177.3,44.2 180.6,47.4 183.8,52.0 187.1,57.8 190.3,64.9 193.9,74.2 197.2,83.9 200.8,95.9 204.0,107.8 207.6,122.3 211.2,137.8 215.2,156.1 223.2,196.0 228.6,225.3 232.5,248.6 232.9,249.0 234.0,247.6 235.4,245.0 238.7,237.5 242.3,227.9 253.8,195.0 257.4,185.9 260.7,178.7 264.3,172.1 266.1,169.4 267.9,167.2 269.7,165.4 271.5,164.1 273.3,163.3 274.8,163.0 276.6,163.1 278.4,163.7 280.2,164.8 282.0,166.4 283.8,168.4 285.6,170.9 289.2,177.1 292.8,184.8 296.4,193.6 308.3,226.7 311.9,236.2 315.6,244.1 317.0,246.6 317.7,247.4 318.1,247.6 319.5,246.1 321.3,243.7 332.5,226.0 335.4,221.9 338.3,218.3 341.2,215.3 344.1,213.2 347.0,211.8 349.8,211.4 352.4,211.7 355.3,213.0 358.1,215.2 361.0,218.1 363.9,221.8 366.8,226.0 376.2,241.6 379.1,246.1 381.2,248.8 381.6,249.1 382.3,248.7 383.8,247.3 385.2,245.2 388.5,238.6 391.7,230.4 400.0,207.7 402.5,201.5 405.1,196.2 407.6,191.9 410.1,188.6 412.6,186.6 414.8,185.9 417.0,186.0 418.1,186.4 419.5,187.2 422.0,189.5 424.6,192.7 426.7,196.0 429.3,200.4 438.3,218.3 441.9,224.9 445.5,230.3 446.9,231.9 448.4,233.0 449.5,233.5 451.3,232.9 464.3,225.8 469.3,223.6 471.8,222.8 474.0,222.4 476.2,222.2 478.3,222.4 480.5,222.9 482.7,223.8 484.8,225.0 487.0,226.5 491.0,230.0 499.3,238.4 501.1,240.0 502.5,240.9 503.6,240.4 505.4,239.3 515.9,231.4 521.7,227.7 524.9,226.1 527.8,225.1 530.7,224.4 533.6,224.1 536.5,224.2 539.3,224.6 542.2,225.4 545.5,226.5 552.0,229.8 564.2,237.2 566.0,238.0 566.8,238.0 568.9,236.7 571.8,233.7 574.7,229.8 583.7,216.7 587.0,212.9 589.9,210.3 593.1,208.3 594.9,207.6 596.7,207.3 598.5,207.2 600.3,207.4 604.3,208.5"/>
<polyline points="174.1,42.3 176.6,45.1 179.5,49.1 182.4,54.2 185.3,60.2 188.1,67.1 191.0,75.0 193.9,83.7 196.8,93.1 201.5,110.1 206.6,130.1 212.7,156.4 227.5,222.1 231.5,238.3 234.3,248.2 234.7,247.8 235.1,246.8 235.8,244.2 237.6,235.1 239.8,221.7 245.5,182.7 247.3,171.9 249.1,162.6 250.9,155.2 252.4,150.7 253.5,148.4 254.2,147.3 254.9,146.6 255.6,146.4 256.4,146.5 257.1,147.0 257.8,147.9 258.9,150.1 260.7,155.5 262.5,163.0 264.3,172.5 266.1,183.4 273.7,233.9 275.9,245.0 276.6,247.6 276.9,248.5 277.3,248.8 278.7,248.3 280.2,247.5 283.4,244.6 287.0,240.3 291.0,234.4 294.3,228.9 298.2,221.7 311.6,195.5 316.6,186.0 322.1,176.7 326.7,169.7 331.8,163.4 334.3,160.9 336.5,159.0 339.0,157.2 341.2,156.0 343.7,155.1 345.9,154.6 348.4,154.5 350.9,154.8 353.5,155.5 356.3,156.9 358.9,158.6 361.8,161.0 364.6,163.8 367.5,167.1 372.6,173.9 378.0,182.2 383.4,191.4 396.0,213.5 402.5,224.0 405.8,228.6 409.0,232.7 411.9,235.8 414.5,238.0 416.3,239.2 417.7,239.8 418.8,239.9 419.1,239.5 419.9,238.1 421.0,235.3 424.6,223.7 426.0,219.7 427.8,216.1 428.5,215.2 429.6,214.3 430.3,214.1 431.1,214.1 431.8,214.4 432.9,215.1 434.7,216.9 439.7,223.1 441.5,224.7 442.6,225.3 443.3,223.9 444.1,221.5 446.2,210.5 448.4,196.3 453.8,157.3 456.7,139.7 458.1,132.8 459.6,127.6 461.0,124.1 461.7,123.1 462.5,122.6 463.2,122.6 463.9,123.1 464.6,124.1 465.7,126.6 467.2,131.7 469.0,140.7 472.2,163.0 479.4,221.5 481.6,234.3 482.3,237.2 483.0,238.7 484.1,238.4 485.6,237.7 489.2,235.0 492.8,231.5 502.5,221.3 505.4,218.6 507.9,216.6 510.8,214.7 513.4,213.4 516.2,212.6 518.8,212.3 521.3,212.4 524.2,213.2 526.7,214.3 529.6,216.1 532.5,218.3 535.4,220.8 545.1,230.5 549.1,234.1 551.2,235.7 553.1,236.8 554.9,237.4 555.2,237.2 557.0,233.5 559.2,228.3 568.9,202.7 573.6,191.2 578.3,181.2 580.8,176.7 583.0,173.3 585.9,169.5 588.4,166.9 591.0,165.0 593.5,163.9 596.0,163.4 598.9,163.6 601.4,164.4 604.3,166.1"/>
<polyline points="174.1,42.3 177.7,45.9 181.3,50.6 184.9,56.5 188.9,64.2 192.5,72.4 196.4,82.6 200.1,93.0 204.0,105.5 208.0,119.2 212.3,135.4 216.7,152.8 221.0,171.3 225.7,192.6 230.0,213.5 233.6,232.0 236.5,248.5 237.2,245.8 238.0,241.0 240.1,219.6 246.6,132.9 249.5,99.9 250.9,87.4 252.4,78.4 253.1,75.2 253.8,73.0 254.6,71.8 254.9,71.6 255.3,71.6 256.0,72.4 256.7,74.2 257.4,77.0 258.9,85.2 260.3,97.0 263.2,128.7 270.1,218.8 272.2,239.6 273.0,244.1 273.7,246.6 274.4,244.5 275.1,241.1 277.3,227.4 285.6,160.1 289.2,135.2 291.4,124.0 293.2,117.2 294.3,114.4 295.0,113.1 296.1,111.9 296.8,111.7 297.5,111.9 298.6,113.1 299.3,114.4 300.4,117.2 302.2,124.0 304.0,133.2 305.8,144.5 308.0,160.2 314.5,213.9 316.6,230.3 318.8,243.3 319.9,247.0 320.2,246.4 321.0,243.7 322.1,237.6 324.2,221.0 332.2,142.6 335.4,115.1 337.2,103.4 339.0,94.7 340.1,91.2 340.8,89.5 341.5,88.4 342.3,87.9 343.0,87.9 343.7,88.6 344.4,89.8 345.5,92.6 347.3,100.0 349.1,110.5 350.9,123.6 352.7,138.7 358.9,196.7 361.0,215.5 362.5,226.2 363.6,232.7 364.6,237.4 365.0,238.3 365.4,238.6 366.4,238.2 367.5,237.3 370.1,234.4 372.6,230.3 375.5,224.7 380.9,212.1 394.6,176.9 398.2,168.7 401.8,161.5 405.1,156.1 408.3,151.9 410.1,150.1 411.6,149.0 413.4,148.0 414.8,147.5 416.6,147.3 418.4,147.5 420.2,148.1 422.4,149.5 424.2,151.1 426.4,153.6 428.2,156.1 430.3,159.5 434.3,167.1 438.3,176.0 452.4,212.0 457.8,224.5 460.7,230.1 463.2,234.2 465.7,237.1 466.8,238.0 467.9,238.4 468.2,237.7 469.7,230.8 477.6,185.0 479.8,173.7 481.9,163.7 484.1,155.5 486.3,149.2 487.4,146.8 488.4,145.0 489.5,143.9 490.3,143.4 491.3,143.2 492.4,143.6 493.5,144.7 494.9,147.0 497.1,152.4 499.6,161.5 501.4,169.7 503.6,180.9 512.3,233.4 513.7,241.1 514.1,242.6 514.4,243.0 515.9,242.2 518.0,240.5 526.7,232.0 531.0,228.4 533.2,227.0 535.4,225.9 537.5,225.1 539.7,224.7 541.9,224.6 544.0,224.7 546.6,225.3 549.1,226.1 554.1,228.4 565.0,234.2 568.9,235.8 569.3,235.3 569.7,234.1 571.1,228.3 578.7,192.0 582.7,175.5 584.8,168.5 586.6,163.8 588.8,159.9 590.6,158.1 592.0,157.6 592.8,157.7 593.8,158.2 595.3,159.5 597.1,162.3 598.5,165.3 600.3,169.9 602.1,175.5 604.3,183.2"/>
</g>
<g clip-path="url(#cTR)" fill="none" stroke="#1f77b4" stroke-opacity="0.5" stroke-width="3.35" stroke-linejoin="round" stroke-linecap="square">
<polyline points="663.8,54.9 669.6,53.8 673.9,53.5 677.2,53.9 683.7,55.6 686.2,56.2 689.1,56.3 692.0,55.8 695.9,54.3 699.9,52.0 703.9,49.2 714.0,41.0 716.9,39.0 719.7,37.4 722.6,36.3 725.5,35.8 728.4,36.0 731.7,36.9 734.5,38.1 737.8,39.9 748.3,46.7 752.6,49.2 756.9,51.2 767.0,55.3 771.4,57.4 784.4,65.5 789.0,68.1 791.9,69.2 794.5,69.9 803.5,71.3 806.4,72.0 809.3,72.9 812.1,74.4 815.0,76.2 817.9,78.4 825.5,85.1 834.9,94.4 850.4,111.0 854.4,114.6 858.0,117.3 862.7,119.9 871.3,123.6 876.4,126.1 896.2,137.3 904.2,141.4 908.9,143.3 913.6,144.9 918.6,146.3 924.0,147.5 945.7,151.0 966.3,154.7 975.6,156.1 985.0,157.1 1008.5,158.9 1015.7,159.8 1030.5,162.3 1034.8,162.7 1038.8,162.8 1041.7,162.5 1044.6,162.0 1047.5,161.2 1050.7,160.0 1056.1,157.6 1068.0,151.3 1074.2,148.4 1082.5,144.9 1094.0,140.5"/>
<polyline points="663.8,46.8 666.3,42.8 668.5,39.9 670.3,38.2 671.7,37.6 673.5,37.8 674.6,38.3 675.7,39.1 677.9,41.5 680.0,44.6 686.5,55.8 690.5,63.1 694.1,70.6 697.0,77.7 699.5,84.9 701.7,91.9 711.1,126.2 714.7,138.2 717.2,145.5 719.7,152.0 722.3,157.7 724.8,162.9 728.4,169.2 732.0,174.6 735.6,179.1 739.6,183.2 743.9,186.8 748.3,189.7 753.3,192.4 759.1,194.8 764.1,196.5 770.3,198.2 778.2,200.0 785.4,201.3 790.8,202.1 796.3,202.6 801.3,202.7 806.4,202.6 813.9,201.6 821.2,199.8 828.4,197.4 846.1,190.6 855.1,187.9 859.8,186.9 864.1,186.4 868.8,186.3 873.5,186.5 881.8,187.7 890.8,189.8 899.9,192.5 923.0,200.3 929.8,202.3 936.3,203.8 945.7,205.6 967.7,209.1 994.1,214.0 1003.1,215.2 1011.4,215.7 1016.8,215.8 1022.6,215.5 1035.2,214.2 1094.0,204.5"/>
<polyline points="663.8,42.9 666.7,41.3 668.9,40.3 671.4,39.7 672.8,39.7 675.0,45.9 677.5,56.0 680.8,73.5 684.0,95.1 694.8,179.9 699.2,210.4 701.3,223.3 703.5,234.1 705.7,242.7 707.8,248.9 708.2,249.1 709.3,248.2 711.1,245.7 713.2,241.6 715.4,236.5 719.4,225.7 730.6,192.1 733.8,183.6 736.7,177.0 740.0,171.0 741.8,168.4 743.2,166.7 744.6,165.3 746.1,164.3 747.5,163.6 749.3,163.3 750.4,163.4 751.9,163.8 753.3,164.5 754.8,165.6 757.6,168.6 760.9,173.3 763.8,178.5 767.0,185.1 778.6,211.8 782.9,220.9 785.1,224.9 787.2,228.2 789.0,230.3 790.8,231.6 791.9,231.5 793.0,231.1 795.9,229.4 798.8,226.8 802.0,223.0 807.8,214.6 821.5,192.3 824.8,187.7 828.0,183.6 831.3,180.4 834.2,178.3 837.0,177.0 839.6,176.6 841.4,176.8 843.2,177.4 844.6,178.1 846.4,179.3 849.7,182.5 853.3,187.3 856.5,192.7 860.1,199.7 872.8,227.8 877.8,237.9 880.7,242.7 883.2,246.0 885.4,248.1 887.6,249.2 888.3,249.3 889.4,249.1 891.2,248.0 893.4,245.9 895.5,243.1 897.7,239.6 899.9,235.6 910.0,214.7 914.7,206.1 917.2,202.3 919.7,199.1 922.2,196.8 924.8,195.2 927.3,194.4 929.8,194.3 932.3,195.0 935.2,196.4 938.1,198.5 941.0,201.1 952.9,213.4 958.3,218.3 961.6,220.6 964.5,222.1 967.3,223.1 969.5,223.4 972.0,222.6 974.9,221.2 978.2,219.0 981.4,216.5 987.6,210.9 1003.1,195.5 1007.4,191.6 1011.0,188.8 1014.6,186.4 1018.2,184.6 1021.8,183.4 1025.1,182.9 1027.6,182.9 1029.8,183.2 1032.3,183.9 1034.5,184.8 1036.6,186.0 1039.2,187.7 1043.9,191.8 1048.2,196.6 1052.5,202.2 1066.6,222.7 1070.9,228.6 1075.3,233.8 1078.9,237.1 1081.8,238.9 1082.8,239.3 1083.9,239.3 1086.1,239.0 1088.6,238.2 1094.0,235.9"/>
<polyline points="663.8,50.8 666.3,45.7 668.5,42.0 669.6,40.7 670.7,39.7 671.7,39.1 672.5,39.0 673.2,40.0 675.0,44.5 676.4,48.9 678.2,55.4 681.8,71.6 685.8,93.6 689.4,116.3 699.2,181.4 704.2,211.1 707.1,225.3 709.6,235.6 712.5,244.8 714.0,248.2 714.3,249.0 714.7,249.2 717.2,248.7 720.1,247.1 723.4,244.4 726.6,240.9 729.5,237.3 732.7,232.7 746.8,211.4 750.4,206.7 754.0,202.6 757.3,199.6 760.5,197.5 763.8,196.1 767.0,195.7 769.9,196.0 773.2,197.2 776.4,199.3 779.7,202.1 783.3,206.0 786.9,210.6 801.7,232.1 804.9,236.5 807.8,240.0 811.4,243.6 814.7,246.0 817.6,247.3 819.4,247.6 820.1,247.5 821.9,246.2 824.1,243.8 826.6,240.4 829.1,236.5 834.2,227.7 848.6,200.9 853.3,193.1 857.6,186.9 862.3,181.4 864.5,179.4 866.6,177.7 868.8,176.4 871.0,175.4 873.1,174.8 875.3,174.5 877.5,174.7 879.6,175.2 881.8,176.0 884.0,177.2 886.1,178.8 888.3,180.6 893.0,185.7 897.3,191.6 902.0,198.8 917.2,225.2 922.6,233.9 925.1,237.4 927.6,240.5 929.8,242.6 931.6,243.6 932.7,242.8 934.5,240.2 936.3,236.9 938.5,232.1 942.4,222.0 953.6,191.1 956.9,183.0 960.1,176.0 963.4,170.2 966.6,165.8 968.4,164.1 969.9,163.0 971.7,162.2 973.1,161.9 974.6,161.9 976.4,162.4 977.8,163.1 979.6,164.5 981.1,166.0 982.9,168.2 986.5,174.0 989.7,180.5 993.3,188.8 1004.9,219.0 1008.9,228.5 1011.0,233.1 1012.8,236.3 1014.3,238.4 1015.7,239.8 1017.2,239.8 1019.0,239.5 1022.6,238.3 1026.5,236.3 1030.5,233.6 1034.1,230.6 1038.1,226.9 1052.2,212.4 1057.9,206.9 1063.7,202.2 1066.6,200.3 1069.1,198.9 1072.4,197.5 1075.3,196.7 1078.5,196.2 1081.4,196.3 1084.3,196.7 1087.5,197.6 1090.8,199.0 1094.0,200.8"/>
<polyline points="663.8,48.1 666.0,43.5 667.8,40.4 669.6,38.5 670.3,38.2 671.0,38.1 674.6,41.6 678.6,46.7 682.6,53.1 686.5,60.7 689.8,67.7 693.4,76.3 697.0,85.7 701.0,96.8 708.2,118.4 727.3,178.7 733.1,195.5 738.5,209.9 744.6,224.1 747.5,229.9 750.4,235.1 753.3,239.6 755.8,243.1 758.7,246.4 761.3,248.6 762.3,248.2 763.8,247.1 765.2,245.3 766.7,242.8 769.6,236.0 772.8,225.9 775.7,215.1 778.6,202.9 788.3,157.7 791.9,141.8 795.2,129.0 798.1,119.1 801.0,111.1 802.4,107.9 803.8,105.3 805.3,103.2 806.7,101.6 808.2,100.7 809.3,100.4 810.7,100.6 812.1,101.4 813.6,102.7 815.0,104.7 816.5,107.2 817.9,110.3 821.2,119.1 824.4,130.3 827.7,143.3 840.3,201.1 843.2,213.3 846.1,224.3 849.0,233.6 851.8,240.9 853.3,243.7 854.7,245.9 856.2,247.3 857.3,248.0 858.3,248.1 859.8,247.9 862.7,246.8 865.6,244.9 868.8,241.8 872.1,238.0 875.7,233.1 890.8,209.3 894.4,204.1 898.0,199.5 902.0,195.2 905.6,192.3 907.8,190.9 909.6,190.1 913.2,189.1 916.5,189.1 919.7,189.8 923.0,191.3 926.6,193.6 930.2,196.7 934.1,200.6 938.5,205.5 950.7,220.1 954.4,223.9 958.0,227.4 962.3,230.8 966.3,233.0 968.4,233.8 970.2,234.2 971.7,234.3 972.8,234.0 974.6,232.6 976.7,230.2 979.3,226.8 981.8,222.7 986.8,213.3 1000.2,186.6 1004.2,179.5 1008.1,173.3 1012.1,168.2 1016.1,164.4 1018.2,162.9 1020.0,161.9 1021.8,161.3 1023.7,160.9 1025.5,160.8 1027.6,161.1 1029.4,161.6 1031.6,162.6 1033.8,163.9 1035.9,165.6 1040.3,169.9 1043.9,174.3 1048.2,180.3 1061.9,201.7 1066.6,208.6 1070.9,214.1 1074.9,218.0 1077.1,219.4 1078.2,219.9 1078.9,219.9 1085.4,218.9 1094.0,216.8"/>
<polyline points="663.8,43.0 667.4,41.2 670.3,40.2 673.2,39.8 674.3,40.4 676.4,42.6 679.0,46.4 681.5,51.6 684.0,58.2 686.2,64.8 688.7,73.5 693.8,94.0 698.8,117.4 711.8,181.1 715.8,198.9 719.4,213.3 723.7,227.9 725.9,233.9 727.7,238.2 729.9,242.4 731.7,245.2 733.5,247.2 734.5,248.1 735.3,248.4 736.3,247.7 737.4,246.3 738.5,244.4 740.0,241.2 742.5,234.2 745.4,224.1 750.8,201.4 763.4,142.5 767.0,127.7 770.3,116.1 773.5,106.6 776.4,100.1 778.2,97.1 779.7,95.3 781.1,94.1 782.5,93.4 784.0,93.2 785.8,93.8 787.6,95.3 789.4,97.7 790.8,100.1 792.7,103.9 794.5,108.5 796.3,113.7 799.9,126.2 803.5,140.8 816.5,200.9 821.9,223.5 824.8,233.5 827.3,240.6 828.7,243.7 829.8,245.6 830.9,247.0 832.0,247.7 832.4,247.3 832.7,245.9 833.4,241.3 836.7,213.4 837.8,208.2 838.1,207.5 838.5,207.2 838.9,207.5 839.2,208.2 840.3,213.4 843.5,241.4 844.6,247.5 845.0,247.8 845.4,247.7 846.1,247.3 847.2,246.1 848.6,243.9 850.4,240.2 852.2,235.6 854.0,230.3 858.0,216.5 862.0,200.7 872.4,156.6 875.7,144.1 878.9,133.0 882.5,122.8 885.8,115.9 887.6,113.0 889.0,111.3 890.5,110.0 891.9,109.2 893.4,109.0 895.2,109.4 897.0,110.6 898.8,112.5 900.2,114.6 902.0,117.9 903.8,121.9 905.6,126.5 909.2,137.5 912.8,150.4 925.8,203.5 931.3,223.4 934.1,232.2 937.0,239.2 938.5,241.8 939.6,243.4 940.6,244.5 941.7,245.1 942.8,244.9 943.9,244.4 945.3,243.3 946.8,241.8 949.7,238.1 952.5,233.3 955.4,227.7 958.3,221.6 972.0,190.5 975.6,183.4 979.3,177.2 982.5,172.8 985.8,169.5 987.6,168.2 989.0,167.4 990.8,166.8 992.3,166.6 993.7,166.7 995.5,167.2 996.9,167.8 998.8,169.0 1002.0,172.0 1005.2,176.1 1008.9,181.8 1012.5,188.5 1026.5,218.2 1029.8,224.6 1032.7,229.7 1035.9,234.5 1039.2,238.2 1040.6,239.3 1042.1,240.1 1043.1,240.3 1044.2,239.9 1046.0,238.0 1047.8,234.9 1050.0,230.1 1052.2,224.2 1056.5,210.1 1064.8,179.8 1068.8,166.3 1072.7,154.7 1074.9,149.4 1076.7,145.8 1078.9,142.3 1081.0,139.7 1083.2,138.2 1084.3,137.9 1085.4,137.8 1086.5,138.0 1087.5,138.4 1089.7,139.9 1091.9,142.4 1094.0,145.7"/>
<polyline points="663.8,52.3 666.0,44.4 667.8,39.1 668.9,36.8 669.6,35.8 670.3,35.2 671.0,35.0 672.5,38.0 673.9,41.8 675.3,46.3 677.2,52.8 680.8,68.9 684.7,90.5 688.7,115.1 698.4,178.9 701.3,196.4 703.9,210.3 706.8,224.3 709.6,235.8 712.2,243.7 713.6,247.3 714.7,249.3 715.8,248.7 716.9,247.3 719.0,243.0 721.5,235.8 724.1,226.8 728.8,206.8 740.3,152.1 743.6,138.5 746.8,126.9 750.1,117.6 753.0,111.5 754.8,108.9 756.2,107.4 757.6,106.6 759.1,106.3 760.5,106.6 762.0,107.4 763.4,108.8 764.9,110.8 767.8,116.2 770.6,123.5 773.5,132.4 776.8,143.9 788.3,190.0 793.0,207.1 795.5,215.0 798.1,221.5 800.2,225.8 801.3,227.4 802.4,228.5 803.5,229.1 804.6,229.0 806.4,228.3 808.2,227.2 811.4,224.1 815.0,219.3 817.9,214.5 821.2,208.5 832.0,186.2 835.6,179.1 839.2,172.9 842.5,168.1 845.7,164.4 848.6,162.2 850.0,161.4 851.5,161.0 852.9,160.8 854.4,160.9 855.8,161.2 857.3,161.9 860.1,164.0 863.0,167.1 865.9,171.3 869.2,176.9 872.4,183.5 885.4,213.2 888.3,219.3 890.8,224.2 893.7,228.9 896.6,232.7 899.5,235.3 900.9,236.1 902.0,236.4 902.7,236.5 903.1,236.1 903.8,231.3 904.5,222.9 907.4,180.6 908.2,174.3 908.5,172.6 908.9,171.9 909.2,172.2 910.0,176.0 910.7,183.8 913.9,238.1 914.7,244.9 915.0,246.1 915.4,245.9 916.1,245.1 917.2,243.2 919.0,238.7 921.1,231.8 923.7,222.0 928.0,202.5 939.6,145.7 943.2,130.1 946.4,117.9 949.7,108.0 951.5,103.5 952.9,100.6 954.7,97.8 956.2,96.1 958.0,94.9 959.4,94.6 960.9,94.8 962.7,96.0 964.1,97.5 965.9,100.3 967.3,103.1 969.2,107.3 972.4,116.7 975.6,128.3 978.9,141.4 990.4,194.1 994.8,212.3 997.3,221.6 999.5,228.3 1001.3,232.7 1003.1,235.8 1003.8,236.4 1004.9,236.1 1006.0,235.3 1007.4,233.5 1008.9,231.2 1010.3,228.3 1013.2,221.2 1015.7,213.8 1018.6,204.3 1030.9,160.8 1034.1,150.8 1037.4,142.3 1040.3,136.4 1042.8,132.6 1044.2,131.0 1045.7,130.0 1047.1,129.4 1048.2,129.2 1049.3,129.4 1050.7,130.0 1052.2,131.2 1053.6,132.8 1056.1,136.7 1059.0,142.7 1061.9,150.3 1065.2,160.4 1068.8,172.9 1078.2,207.3 1081.0,216.8 1083.6,224.2 1086.5,231.2 1087.9,233.9 1089.3,236.1 1090.8,237.6 1091.9,238.3 1092.6,238.3 1094.0,237.7"/>
<polyline points="663.8,49.0 667.0,43.3 669.2,40.4 670.3,39.3 671.4,38.5 672.5,38.1 673.2,38.1 674.6,40.8 676.4,45.0 678.2,49.9 680.0,55.6 682.2,63.4 684.4,72.1 689.1,94.0 693.4,116.7 704.6,178.7 707.8,195.3 710.7,208.8 714.0,222.3 716.9,232.4 720.1,241.5 723.0,247.5 724.4,247.3 725.9,246.6 727.3,245.6 728.8,244.3 731.7,240.9 734.9,235.7 737.8,230.2 740.7,224.2 753.7,194.6 756.9,188.0 760.2,182.4 763.1,178.3 765.9,175.2 768.8,173.2 771.4,172.3 772.8,172.2 774.2,172.4 775.7,172.9 777.5,173.8 780.4,176.2 783.6,180.1 786.9,185.0 790.5,191.5 794.1,198.8 804.2,220.4 807.5,226.7 810.3,231.7 813.6,236.3 816.5,239.5 819.4,241.6 820.8,242.2 822.3,242.4 825.9,241.9 829.8,240.6 833.8,238.6 838.1,235.6 841.7,232.6 845.7,228.9 863.4,211.2 867.7,207.4 871.7,204.5 875.3,202.3 878.9,200.7 882.5,199.6 886.1,199.2 890.1,199.4 894.1,200.5 898.0,202.3 902.4,205.0 906.3,208.0 911.0,212.3 927.3,229.2 934.1,235.6 937.8,238.4 941.4,240.7 945.0,242.4 948.2,243.4 950.7,243.7 952.2,243.5 954.7,242.5 958.0,240.5 963.7,236.2 979.3,222.9 983.6,219.7 987.6,217.2 991.5,215.2 995.1,213.7 998.8,212.8 1002.4,212.3 1006.3,212.3 1010.3,212.8 1014.3,213.7 1018.6,215.2 1022.6,217.0 1027.3,219.4 1042.8,228.3 1048.6,231.4 1054.7,234.0 1057.2,234.7 1058.3,234.6 1060.1,233.7 1061.9,232.0 1063.7,229.9 1065.9,226.8 1070.2,219.3 1080.3,199.6 1084.7,191.8 1087.2,187.8 1089.3,184.8 1091.9,181.9 1094.0,179.9"/>
<polyline points="663.8,44.4 665.6,40.7 666.7,39.2 667.8,38.4 668.1,38.3 668.5,38.6 671.0,42.4 673.5,47.5 676.1,54.0 678.6,61.7 682.6,76.3 687.3,96.5 691.6,117.3 703.9,179.2 707.5,195.9 710.7,209.6 714.7,224.0 718.3,234.6 720.1,238.9 721.9,242.5 723.7,245.5 724.8,246.9 725.2,247.1 727.3,246.3 729.9,244.5 732.4,241.7 734.9,238.2 740.0,229.5 751.5,207.3 754.8,201.8 757.6,197.6 760.5,194.3 763.1,192.0 765.6,190.6 768.1,189.9 769.6,189.9 771.0,190.1 773.9,191.3 776.8,193.6 779.7,196.7 782.5,200.5 785.8,205.7 797.7,227.2 802.8,235.4 805.6,239.2 808.2,241.7 810.7,243.4 812.9,244.1 814.3,243.7 816.1,242.6 820.4,239.2 824.8,234.9 836.0,223.1 839.2,220.0 842.5,217.2 845.7,214.9 849.0,213.1 851.8,211.9 854.7,211.3 856.9,211.1 858.7,211.2 862.3,212.0 866.3,213.8 870.3,216.4 873.9,219.6 877.8,223.6 890.1,237.9 894.1,242.2 896.2,244.3 898.4,246.0 900.2,247.0 901.3,247.3 903.8,246.7 906.7,245.4 909.6,243.5 912.8,240.8 918.6,234.9 932.3,219.4 935.9,215.8 939.2,213.0 942.1,210.8 945.0,209.1 947.9,207.8 950.7,206.9 954.4,206.5 958.3,206.9 962.3,208.2 966.3,210.1 970.2,212.8 974.2,215.9 989.7,230.2 995.9,235.3 999.1,237.5 1002.4,239.2 1005.2,240.2 1007.8,240.6 1009.6,240.2 1011.7,239.1 1014.6,237.1 1017.5,234.7 1022.9,229.6 1036.3,215.8 1043.5,209.3 1046.8,206.8 1049.6,204.9 1052.5,203.3 1055.4,201.9 1059.4,200.6 1063.4,199.8 1067.3,199.4 1071.7,199.6 1076.0,200.2 1081.0,201.3 1086.5,203.0 1094.0,205.5"/>
<polyline points="663.8,46.2 667.0,41.7 669.2,39.2 671.4,37.6 672.5,37.1 673.5,37.0 674.6,38.4 676.1,41.6 677.5,46.0 679.0,51.5 680.4,58.1 682.2,67.8 685.5,88.6 688.7,112.8 697.4,182.0 701.7,212.0 704.2,226.2 706.4,235.9 707.8,241.0 708.9,244.0 710.0,246.4 711.1,248.1 712.2,248.1 713.6,247.6 715.1,246.9 716.9,245.7 720.1,242.7 723.7,238.4 727.0,233.9 730.2,228.9 741.8,209.5 746.1,202.6 750.4,196.4 754.4,191.5 758.4,187.5 762.3,184.6 765.9,183.0 767.8,182.5 769.9,182.2 773.2,182.3 776.8,183.3 780.4,185.1 784.4,187.8 788.0,190.9 792.3,195.3 808.5,213.7 812.5,217.9 815.8,221.0 819.7,224.3 823.3,226.7 826.6,228.2 829.8,229.0 831.6,228.9 834.5,227.9 837.8,226.3 841.7,223.9 849.0,218.7 863.0,207.6 868.8,203.3 874.9,199.2 880.4,196.2 883.6,194.8 886.5,193.8 889.4,193.1 892.3,192.7 895.2,192.5 897.7,192.7 900.6,193.2 903.1,193.9 906.7,195.3 910.7,197.5 914.3,200.1 918.3,203.3 922.2,207.1 926.6,211.7 942.1,229.9 948.2,236.6 951.8,239.9 954.7,242.1 957.6,243.7 959.4,244.1 960.9,243.8 962.7,243.0 965.9,240.7 969.5,237.1 973.1,232.4 976.4,227.5 980.0,221.5 991.5,200.8 996.2,192.7 1000.9,185.5 1005.2,179.8 1009.6,175.4 1011.7,173.7 1013.9,172.4 1016.1,171.4 1018.2,170.8 1020.0,170.7 1022.2,170.8 1024.0,171.2 1025.8,171.8 1029.4,173.9 1033.4,177.2 1037.4,181.5 1041.0,186.2 1045.0,192.0 1058.7,214.1 1064.1,222.3 1069.5,229.3 1072.0,232.0 1074.5,234.3 1077.1,236.0 1079.2,237.0 1081.4,237.6 1082.8,237.3 1085.0,236.1 1087.9,233.9 1090.8,231.0 1094.0,227.3"/>
<polyline points="663.8,53.6 666.0,46.0 667.8,41.0 669.2,38.3 669.9,37.6 670.7,37.3 672.5,38.1 674.3,39.4 676.1,41.2 677.9,43.4 681.5,49.1 685.1,56.5 688.0,63.4 691.2,72.3 694.5,82.2 697.7,93.0 704.2,116.5 721.2,181.5 726.2,199.1 730.9,213.6 733.8,221.6 736.3,227.8 738.9,233.3 741.4,238.1 743.9,242.0 746.5,245.1 749.0,247.3 751.1,248.5 751.5,248.5 752.2,248.1 753.3,247.0 754.4,245.3 755.8,242.5 758.7,235.2 762.0,224.8 764.9,214.0 767.8,202.2 781.8,140.8 785.8,125.5 789.4,113.5 793.0,103.7 796.3,97.1 798.1,94.3 799.9,92.3 801.7,91.1 803.1,90.6 804.9,90.7 806.7,91.5 808.5,93.0 810.3,95.3 812.1,98.4 813.9,102.0 815.8,106.4 817.9,112.4 821.5,124.2 825.5,139.4 829.5,156.1 839.9,202.3 845.4,223.6 848.2,233.2 851.1,241.1 852.6,244.2 854.0,246.7 855.1,248.0 856.2,248.7 857.6,248.5 860.1,247.5 862.7,246.1 865.6,244.1 870.6,240.1 884.0,228.4 890.8,223.3 894.1,221.3 897.3,219.7 900.6,218.4 903.5,217.6 907.8,217.1 912.5,217.3 917.2,218.3 922.2,220.2 926.6,222.4 931.3,225.2 946.8,236.3 952.5,240.0 958.0,242.8 960.1,243.5 961.9,243.8 964.1,243.3 966.3,242.1 968.8,240.2 971.3,237.8 976.0,232.3 987.2,218.0 990.1,214.7 993.0,211.8 995.5,209.7 998.0,207.8 1000.2,206.6 1002.7,205.5 1005.2,204.8 1008.1,204.5 1011.0,204.6 1014.3,205.1 1020.0,206.8 1033.4,212.3 1040.6,214.8 1045.0,216.0 1049.3,216.9 1053.3,217.5 1056.5,217.7 1059.7,216.6 1064.1,214.3 1078.5,204.6 1084.3,201.0 1089.3,198.6 1094.0,197.1"/>
<polyline points="663.8,55.6 666.0,47.0 667.8,41.0 669.6,36.9 670.3,36.0 671.0,35.4 671.4,35.3 671.7,35.5 672.1,35.9 673.9,39.0 675.7,43.9 677.5,50.4 680.8,66.1 684.4,88.6 688.0,114.7 696.6,181.7 699.2,199.4 701.3,213.0 703.9,226.6 706.4,237.4 707.8,242.1 708.9,244.9 710.4,247.7 711.4,249.1 712.5,247.9 714.3,244.3 716.1,239.6 717.9,234.2 721.9,220.6 732.7,180.6 736.0,170.0 739.2,160.8 742.5,153.3 744.3,150.0 745.7,147.8 747.5,145.8 749.0,144.6 750.4,143.9 751.9,143.7 753.3,143.9 755.1,144.8 756.6,146.1 758.4,148.3 759.8,150.6 761.6,154.0 764.9,161.7 768.1,171.2 771.4,182.0 781.5,219.5 785.1,232.1 788.3,241.9 790.8,247.6 791.6,248.7 792.3,249.4 792.7,248.7 793.4,245.5 794.5,237.9 797.3,212.7 798.4,204.6 799.9,197.5 800.6,195.8 801.0,195.5 801.3,195.5 801.7,195.9 802.4,197.7 803.8,205.1 807.8,238.0 808.9,245.2 809.6,248.2 810.0,248.7 810.7,248.4 811.4,247.7 812.5,246.1 813.6,243.9 815.8,238.0 817.9,230.4 820.4,219.8 825.1,196.4 836.3,134.6 839.6,118.6 842.5,106.3 845.4,96.2 848.2,88.7 849.7,85.9 851.1,83.9 852.6,82.5 853.7,82.1 855.1,82.1 856.5,82.8 858.0,84.3 859.4,86.5 860.9,89.5 862.3,93.1 865.6,103.6 868.8,116.9 872.1,132.6 884.0,198.0 888.7,221.0 891.2,231.3 893.7,239.7 895.2,243.3 896.2,245.5 897.3,247.1 898.4,248.0 899.5,248.1 901.3,247.6 902.7,246.8 904.5,245.4 907.8,241.9 911.4,236.5 915.0,229.8 919.0,221.3 923.3,211.0 935.2,181.6 939.2,172.6 942.8,165.3 946.8,158.4 950.7,152.9 952.9,150.5 954.7,148.9 956.5,147.7 958.3,146.7 960.5,146.1 962.7,145.9 964.8,146.2 967.0,147.0 969.2,148.2 971.3,149.8 973.5,151.8 976.0,154.5 980.0,159.8 984.7,167.0 999.8,193.5 1006.0,203.4 1009.2,208.1 1012.1,211.7 1015.0,214.8 1017.5,217.0 1020.0,218.7 1022.2,219.8 1024.4,220.4 1026.2,220.5 1027.6,219.6 1029.1,218.1 1033.4,211.7 1034.8,209.9 1035.6,209.5 1036.3,209.3 1037.4,210.0 1038.5,211.7 1039.5,214.5 1041.0,219.8 1044.6,235.0 1045.7,237.9 1046.4,238.7 1047.1,238.3 1047.8,237.6 1049.3,235.6 1051.1,232.3 1052.9,228.4 1056.5,219.4 1064.8,196.2 1068.8,185.8 1072.7,176.8 1074.9,172.7 1076.7,169.8 1078.9,166.8 1081.0,164.6 1083.2,163.1 1085.4,162.3 1087.5,162.2 1089.7,162.7 1091.9,163.9 1094.0,165.7"/>
<polyline points="663.8,44.1 666.7,41.0 668.9,39.2 671.0,38.0 672.8,37.7 674.3,40.4 676.1,44.9 679.7,56.2 684.0,73.6 688.3,94.5 692.7,117.9 703.1,177.3 706.4,194.5 709.3,208.5 712.5,222.4 715.4,233.0 718.3,241.6 721.2,248.1 721.9,247.8 723.0,247.0 725.2,244.5 727.3,241.0 729.9,236.0 734.5,225.2 746.1,195.8 749.3,188.5 752.6,182.1 755.8,177.0 758.7,173.5 760.5,172.0 762.0,171.1 763.4,170.5 764.9,170.2 766.3,170.3 768.1,170.9 769.6,171.7 771.4,173.1 774.6,176.9 777.9,182.1 781.1,188.5 784.4,195.9 796.3,226.7 800.6,236.9 803.1,241.9 805.3,245.5 807.5,248.2 808.5,249.0 809.3,249.3 811.4,249.0 814.3,247.8 817.6,246.0 821.2,243.5 827.3,238.5 843.9,223.7 848.6,220.0 852.9,217.0 857.6,214.4 862.0,212.6 866.3,211.4 870.6,210.9 874.9,211.0 879.3,211.7 883.6,213.0 888.3,215.1 893.0,217.6 898.0,220.9 915.7,233.7 922.6,238.2 926.6,240.4 930.2,242.0 933.4,242.9 934.5,243.0 935.2,242.9 937.4,241.6 939.9,239.3 942.8,236.0 946.1,231.6 952.2,222.2 968.8,194.9 974.2,187.0 978.9,181.0 984.0,175.6 986.5,173.5 989.0,171.7 991.5,170.2 993.7,169.3 996.2,168.6 998.4,168.3 1000.9,168.3 1003.4,168.7 1006.0,169.5 1008.5,170.6 1011.0,172.1 1013.9,174.3 1016.4,176.6 1019.3,179.5 1024.0,185.0 1029.4,192.4 1034.5,199.9 1046.8,219.0 1052.5,227.3 1055.4,231.0 1058.3,234.3 1060.8,236.7 1063.0,238.3 1064.4,238.8 1066.2,238.7 1069.5,237.9 1073.1,236.5 1078.9,233.6 1094.0,224.8"/>
<polyline points="663.8,52.5 666.3,45.7 668.1,41.8 669.9,39.3 670.7,38.8 671.4,38.5 671.7,38.7 673.2,40.9 675.3,45.1 677.5,50.3 680.0,57.6 684.4,73.1 689.4,94.9 694.1,118.0 706.0,179.6 709.6,196.8 712.9,210.9 716.5,224.6 720.1,235.9 723.4,243.7 725.2,247.1 726.6,249.2 728.8,248.9 731.3,247.9 734.2,246.2 737.1,244.0 742.5,239.0 755.5,225.5 759.1,222.3 762.3,219.7 765.6,217.7 768.5,216.4 771.7,215.4 774.6,215.1 777.5,215.3 780.4,216.0 783.3,217.2 786.5,219.1 789.8,221.4 793.4,224.4 807.5,238.3 813.2,243.2 816.5,245.4 819.7,247.0 821.5,247.5 823.0,247.7 824.4,247.2 826.6,245.5 829.1,242.6 831.6,239.0 834.5,234.3 839.9,224.2 855.5,192.8 859.8,185.0 864.1,178.1 868.8,172.0 871.0,169.7 873.1,167.7 875.7,165.8 877.8,164.6 880.0,163.8 882.2,163.3 884.3,163.2 886.5,163.4 888.7,163.9 890.8,164.8 893.0,166.0 895.5,167.8 900.2,172.0 904.5,176.9 909.6,183.4 926.6,208.4 933.1,217.2 936.7,221.4 939.9,224.6 942.8,226.7 945.0,227.5 946.1,227.3 947.5,226.6 950.4,224.5 953.6,221.1 956.9,217.0 963.0,207.7 978.2,182.3 982.1,176.4 985.8,171.7 989.4,167.8 992.6,165.0 995.9,163.0 999.1,161.9 1001.3,161.7 1003.4,161.9 1005.6,162.5 1007.8,163.5 1009.9,164.9 1012.1,166.8 1014.3,169.0 1016.8,172.1 1021.1,178.5 1025.5,186.0 1029.8,194.3 1040.6,216.1 1046.4,226.6 1049.3,231.0 1052.2,234.7 1054.7,237.1 1056.9,238.4 1057.9,238.6 1059.0,238.4 1060.5,237.9 1062.3,237.0 1065.5,234.6 1068.8,231.4 1071.7,228.1 1074.9,223.9 1088.3,205.4 1094.0,198.4"/>
<polyline points="663.8,54.9 667.0,46.5 669.2,42.0 670.3,40.3 671.4,39.0 672.5,38.2 673.5,38.0 675.3,40.5 677.2,44.0 679.0,48.6 680.8,54.1 682.9,61.9 685.1,70.9 689.4,92.1 693.8,116.4 704.6,180.9 707.8,198.5 710.7,212.6 714.0,226.3 717.2,237.1 720.1,244.2 721.5,246.8 723.0,248.5 724.1,248.1 725.2,247.1 726.2,245.6 727.7,243.1 730.6,236.5 733.5,227.9 736.0,219.2 738.9,208.2 751.9,155.0 755.1,143.3 758.4,133.2 761.6,125.0 764.5,119.5 766.3,117.1 767.8,115.7 769.2,114.8 770.6,114.4 772.1,114.5 773.5,115.2 775.0,116.3 776.8,118.4 778.2,120.7 780.0,124.1 783.3,132.0 786.5,141.9 790.1,154.7 802.8,205.8 805.6,216.8 808.2,225.5 811.1,234.2 813.9,241.0 815.4,243.7 816.5,245.2 817.6,246.4 818.6,247.1 819.4,247.1 820.1,246.2 821.9,242.6 824.1,236.6 826.6,228.1 831.3,209.2 843.5,155.5 847.2,141.6 850.4,130.8 853.7,121.9 855.5,117.8 856.9,115.1 858.7,112.4 860.1,110.8 862.0,109.5 863.4,109.0 864.8,109.1 866.6,109.8 868.5,111.3 870.3,113.6 872.1,116.7 873.9,120.4 877.5,129.9 881.1,141.7 884.7,155.3 896.6,206.1 900.9,223.2 903.5,231.8 905.6,238.0 907.4,241.9 908.2,243.1 908.9,243.8 910.0,243.4 911.0,242.4 912.1,241.0 913.6,238.4 916.5,231.5 919.3,222.5 924.4,203.5 937.0,150.1 940.3,138.1 943.5,127.7 946.8,119.3 949.7,113.9 951.1,111.9 952.5,110.4 954.0,109.4 955.4,109.0 956.9,109.1 958.3,109.7 959.8,110.9 961.6,113.1 963.0,115.3 964.8,118.9 968.1,126.9 971.3,136.9 974.6,148.5 986.8,197.8 991.9,216.0 994.4,223.7 996.9,230.1 999.5,234.8 1000.6,236.2 1001.6,237.2 1002.7,237.7 1004.9,237.3 1007.8,236.4 1011.0,234.8 1017.5,230.6 1031.2,219.9 1037.7,215.4 1041.3,213.3 1045.0,211.5 1048.6,210.1 1051.8,209.1 1055.4,208.4 1059.4,208.1 1063.4,208.1 1067.7,208.5 1076.4,210.3 1094.0,215.0"/>
<polyline points="663.8,54.4 667.0,46.6 669.2,42.5 670.3,41.0 671.4,39.9 672.5,39.3 673.2,39.2 675.3,41.5 677.5,45.0 679.7,49.7 681.8,55.5 684.0,62.2 686.5,71.4 691.6,93.0 696.3,116.1 708.6,180.2 712.2,197.4 715.4,211.3 719.4,225.8 723.0,236.2 724.8,240.2 726.6,243.5 728.4,245.9 729.5,247.0 729.9,247.1 732.0,246.4 734.2,245.2 736.7,243.1 739.6,240.2 744.6,234.1 757.6,216.9 761.6,212.3 765.6,208.4 769.6,205.3 773.2,203.2 777.1,201.9 781.1,201.4 783.6,201.5 786.5,202.0 789.4,202.9 792.7,204.2 799.2,207.7 813.6,217.0 820.4,220.9 824.1,222.6 827.3,223.9 830.6,224.9 833.1,225.3 835.6,225.0 838.5,224.2 841.4,223.0 844.6,221.3 850.4,217.4 863.0,207.6 865.9,205.7 868.8,204.1 871.7,203.0 874.6,202.4 877.1,202.3 879.6,202.8 882.2,203.8 885.1,205.7 887.6,207.9 890.5,211.0 895.5,217.8 906.7,234.9 909.2,238.3 911.8,241.2 914.3,243.4 916.8,244.9 918.6,245.3 920.8,245.0 923.7,243.7 926.9,241.2 930.2,237.8 933.8,233.2 937.0,228.4 940.3,223.1 951.8,203.1 956.2,195.9 960.5,189.3 964.5,184.2 968.4,179.9 972.4,176.8 974.6,175.6 976.4,174.8 978.5,174.3 980.3,174.1 982.1,174.2 984.0,174.5 987.6,175.8 991.5,178.4 995.5,182.0 999.5,186.5 1003.8,192.2 1008.1,198.5 1020.8,217.7 1024.7,223.2 1028.0,227.2 1032.0,231.5 1035.9,234.7 1039.5,236.7 1041.3,237.2 1042.8,237.3 1044.2,236.5 1046.0,234.9 1048.2,232.3 1050.4,229.4 1055.1,222.1 1068.4,199.6 1072.7,193.3 1076.7,188.4 1078.9,186.2 1081.0,184.3 1083.2,182.7 1085.4,181.5 1087.5,180.8 1089.7,180.4 1091.9,180.4 1094.0,180.8"/>
<polyline points="663.8,46.3 666.3,39.1 667.4,37.4 668.1,36.8 668.5,36.8 672.8,41.3 677.5,47.5 681.8,54.3 686.5,62.8 690.1,70.1 693.8,78.0 701.7,97.3 709.6,118.4 730.6,176.5 737.1,193.3 742.8,207.0 749.3,220.8 752.6,226.9 755.8,232.5 759.1,237.5 762.0,241.4 765.2,245.2 768.1,248.0 769.2,247.5 770.3,246.4 772.4,242.9 775.0,236.8 777.9,227.9 780.4,218.7 782.9,208.5 794.8,157.2 798.1,144.9 801.0,135.5 803.8,127.9 806.7,122.2 808.2,120.2 809.6,118.7 811.1,117.8 812.1,117.6 813.6,117.7 815.0,118.4 816.5,119.7 817.9,121.6 819.4,124.1 820.8,127.0 824.1,135.5 826.9,145.0 830.2,157.3 842.1,208.7 846.8,226.9 849.7,236.1 852.2,242.5 854.4,246.3 855.5,247.6 856.5,248.3 857.3,248.4 858.3,248.2 860.9,247.2 863.8,245.5 867.0,243.0 872.4,238.1 886.5,223.8 890.5,220.3 894.1,217.4 897.7,215.0 901.3,213.1 904.5,211.8 908.2,210.9 911.4,210.5 914.7,210.5 918.3,210.8 921.9,211.6 925.5,212.6 929.8,214.1 949.3,222.4 959.0,225.8 964.5,227.3 968.8,227.9 971.0,227.9 973.5,227.0 976.0,225.6 978.5,223.7 981.4,221.0 984.3,217.7 989.7,210.7 1003.4,191.0 1007.1,186.4 1010.3,182.7 1013.9,179.3 1017.5,176.8 1020.8,175.2 1024.0,174.5 1025.8,174.5 1027.6,174.6 1029.4,175.1 1031.6,175.9 1035.6,178.4 1039.9,182.2 1043.5,186.2 1047.5,191.2 1060.1,209.1 1064.8,215.4 1069.9,221.1 1072.0,223.1 1074.2,224.7 1076.4,226.0 1078.2,226.8 1080.0,227.3 1081.4,227.4 1083.9,226.8 1086.8,225.7 1090.1,224.2 1094.0,222.1"/>
<polyline points="663.8,55.6 665.6,45.1 666.7,40.0 668.1,35.5 668.9,34.5 669.2,34.3 670.3,35.2 672.1,37.1 675.3,41.5 678.6,47.3 681.8,54.4 684.7,61.6 688.0,70.8 691.2,80.9 694.5,91.9 700.6,114.4 717.2,178.6 722.3,196.5 726.6,210.3 731.7,224.3 734.2,230.3 736.3,234.9 738.9,239.5 741.0,242.8 743.6,246.0 745.7,247.9 746.8,247.7 748.3,247.0 749.7,246.0 751.1,244.6 754.0,241.0 757.3,235.9 760.2,230.6 763.1,224.7 777.1,194.2 780.7,187.3 784.0,181.9 787.2,177.4 790.5,174.1 792.3,172.7 793.7,171.9 795.2,171.3 796.6,171.0 798.1,171.0 799.9,171.2 801.7,171.9 803.5,173.0 805.3,174.4 807.1,176.2 810.7,180.9 814.3,186.7 818.3,194.2 832.4,224.9 835.2,230.7 838.1,236.1 841.4,241.2 844.3,244.8 846.8,247.0 848.2,247.8 849.3,248.1 850.8,248.0 852.2,247.7 855.1,246.3 858.0,244.0 861.2,240.5 864.8,235.7 868.5,230.0 883.2,203.6 886.9,197.7 890.1,192.9 894.1,187.9 897.7,184.5 899.5,183.2 901.3,182.2 904.5,181.2 906.3,181.0 908.2,181.2 910.0,181.6 911.8,182.4 915.4,184.7 919.0,188.1 922.6,192.4 926.6,198.0 930.5,204.2 942.1,223.2 945.3,228.1 948.6,232.5 952.2,236.6 955.4,239.5 958.7,241.5 960.5,242.2 961.9,242.5 963.0,242.4 963.4,240.7 964.5,231.8 967.7,200.1 968.4,195.3 969.2,192.0 969.5,191.0 969.9,190.3 970.2,190.1 970.6,190.2 971.3,191.5 972.4,195.8 973.5,202.3 976.4,223.0 977.1,227.1 977.5,228.6 977.8,229.1 979.3,228.5 981.4,227.1 984.0,224.8 986.5,222.2 991.5,216.0 1004.2,199.5 1007.8,195.2 1011.0,191.8 1014.3,188.8 1017.5,186.5 1020.4,185.0 1023.3,184.1 1025.5,183.8 1027.6,183.8 1029.8,184.2 1031.6,184.9 1033.8,186.0 1035.9,187.4 1038.1,189.2 1040.3,191.3 1044.2,196.0 1048.6,202.0 1052.5,208.2 1061.9,223.7 1066.6,230.7 1068.8,233.5 1070.9,235.9 1073.1,237.7 1074.5,238.4 1075.3,238.2 1076.0,237.7 1077.8,235.9 1080.0,233.0 1082.1,229.5 1087.2,219.9 1094.0,205.1"/>
<polyline points="663.8,46.8 666.0,40.7 667.4,37.4 668.9,35.3 669.6,34.7 670.3,34.5 672.1,37.9 673.9,42.2 675.7,47.2 677.9,54.3 682.2,71.4 686.5,91.9 690.9,114.8 702.1,177.1 705.3,193.8 708.2,207.4 711.4,221.0 714.7,232.4 717.9,241.4 719.7,245.3 720.8,247.0 721.9,246.5 723.4,245.1 724.4,243.5 725.9,240.9 728.8,234.0 731.7,225.2 734.2,216.3 737.1,205.1 750.1,150.7 753.7,137.5 756.9,127.3 760.2,119.1 763.1,113.7 764.5,111.8 765.9,110.3 767.4,109.4 768.8,109.0 770.3,109.1 771.7,109.8 773.2,111.0 775.0,113.2 776.4,115.5 778.2,119.1 781.5,127.4 784.7,137.7 788.3,151.1 801.3,206.4 804.2,217.9 806.7,226.9 809.6,235.9 812.5,243.0 813.9,245.7 815.0,247.2 816.1,248.4 817.2,249.1 817.9,249.1 818.6,248.4 820.4,245.1 822.6,239.2 825.1,230.4 829.5,212.2 840.7,160.1 843.9,146.8 846.8,136.7 849.7,128.5 851.1,125.2 852.6,122.4 854.0,120.3 855.5,118.7 856.9,117.8 858.0,117.5 859.4,117.7 860.9,118.6 862.3,120.0 863.8,122.0 865.2,124.7 866.6,127.9 869.9,136.9 872.8,147.0 876.0,160.1 886.9,209.2 890.8,225.7 893.0,233.4 895.2,239.8 897.0,243.8 898.0,245.4 898.8,246.0 899.5,245.8 900.6,244.9 901.7,243.7 903.1,241.5 905.6,236.6 908.5,229.7 913.6,215.3 926.9,173.1 930.5,163.1 934.1,154.3 937.8,147.2 941.0,142.4 942.8,140.5 944.2,139.3 946.1,138.3 947.5,137.9 948.9,137.8 950.7,138.2 952.5,139.1 954.4,140.6 956.2,142.5 958.0,145.0 959.8,147.8 961.9,151.9 965.5,159.8 969.5,169.9 982.9,208.5 987.9,221.8 990.8,228.2 993.3,232.9 995.5,236.0 996.6,237.1 997.7,237.8 998.4,237.9 999.5,237.7 1002.4,236.7 1005.2,235.1 1008.5,232.8 1011.7,230.1 1015.7,226.3 1032.0,209.2 1035.9,205.2 1039.5,202.0 1043.5,198.9 1047.5,196.3 1051.4,194.4 1055.1,193.2 1059.4,192.6 1063.7,192.9 1068.0,194.0 1072.7,196.2 1077.4,199.2 1082.1,203.1 1087.5,208.3 1094.0,215.2"/>
<polyline points="663.8,43.9 666.7,41.4 668.9,39.9 670.7,39.1 672.5,38.8 675.3,42.2 678.2,46.8 681.1,52.5 684.4,60.2 686.9,67.2 689.8,76.0 695.6,96.1 701.0,117.1 716.1,179.0 720.5,195.2 724.4,208.8 729.1,222.8 733.5,233.3 735.6,237.7 737.8,241.4 740.0,244.5 742.1,246.8 742.8,246.4 743.9,245.2 746.1,241.3 748.6,235.0 751.1,227.2 755.8,210.1 767.8,162.5 771.0,151.1 774.2,141.2 777.5,133.2 780.4,128.0 782.2,125.7 783.6,124.4 785.1,123.6 786.5,123.4 788.0,123.6 789.4,124.4 790.8,125.7 792.3,127.5 795.2,132.5 798.1,139.3 801.3,148.9 804.9,161.5 808.5,175.6 818.3,215.6 821.2,226.3 823.7,234.5 826.6,242.3 828.0,245.3 829.5,247.5 830.6,248.5 831.3,248.7 832.4,248.2 833.4,247.2 834.5,245.7 835.6,243.8 837.8,238.6 840.3,230.7 842.8,220.9 847.5,199.1 858.7,141.0 861.6,127.7 864.5,116.2 867.4,106.8 869.9,100.6 871.3,98.0 872.4,96.5 873.9,95.2 874.9,94.7 876.0,94.6 877.5,95.1 878.9,96.4 880.4,98.3 881.8,101.0 883.2,104.4 886.1,113.0 889.0,123.8 892.3,138.2 904.2,198.8 906.7,210.7 909.2,221.4 912.1,231.7 915.0,239.6 916.5,242.5 917.5,244.1 919.0,245.6 920.1,246.2 920.4,246.2 920.8,245.7 921.5,242.4 924.8,217.7 925.8,211.9 926.6,209.6 926.9,209.0 927.3,208.7 927.6,208.7 928.0,209.0 928.7,210.5 929.8,214.3 932.7,227.2 933.4,229.7 934.1,231.4 934.5,231.5 935.2,230.9 936.7,228.8 938.5,225.3 940.3,221.0 944.2,209.9 948.2,197.2 959.4,159.4 963.0,148.3 966.3,139.2 969.9,130.7 973.1,124.5 974.9,121.7 976.4,119.9 978.2,118.1 979.6,117.1 981.8,116.3 984.0,116.3 986.1,117.1 988.3,118.8 990.4,121.3 992.6,124.7 994.8,128.7 996.9,133.5 1000.9,144.1 1005.2,157.7 1009.2,171.5 1018.6,205.8 1023.3,221.5 1025.5,227.8 1027.6,233.3 1029.8,237.5 1031.2,239.1 1031.6,239.0 1032.0,237.9 1033.0,230.6 1037.0,182.3 1038.1,172.6 1038.8,168.7 1039.2,167.7 1039.5,167.2 1039.9,167.4 1040.3,168.2 1041.3,174.2 1042.8,189.1 1046.0,230.2 1047.1,238.4 1047.5,239.9 1047.8,240.4 1048.6,239.9 1049.3,239.0 1050.7,236.5 1052.5,232.4 1054.7,226.5 1058.7,213.8 1067.0,184.3 1070.6,172.3 1074.5,160.6 1078.2,152.1 1080.3,148.0 1082.1,145.4 1084.3,143.1 1086.1,141.9 1087.9,141.4 1089.0,141.5 1090.1,141.7 1091.9,142.8 1094.0,144.9"/>
</g>
<g clip-path="url(#cBL)" fill="none" stroke="#1f77b4" stroke-opacity="0.5" stroke-width="3.35" stroke-linejoin="round" stroke-linecap="square">
<polyline points="174.1,335.1 180.2,337.0 184.9,339.1 189.2,342.1 193.9,346.4 198.3,351.2 203.3,357.4 224.6,385.9 234.0,397.6 239.4,403.7 244.8,409.2 249.9,413.9 254.9,418.0 258.9,420.8 263.2,423.6 267.6,426.1 272.2,428.4 280.2,431.8 300.4,439.4 306.5,442.1 312.3,445.0 317.4,447.9 322.1,450.9 338.3,462.7 344.4,466.8 350.9,470.6 357.4,473.5 363.2,475.5 369.0,477.0 375.1,478.2 381.6,479.1 387.0,479.4 392.4,479.4 417.0,478.1 422.8,478.0 428.2,478.2 435.7,479.0 443.0,480.2 449.5,481.7 460.3,484.8 466.1,485.9 472.9,486.2 488.8,485.6 495.3,486.0 500.4,486.8 505.8,488.2 511.9,490.0 534.6,497.6 542.6,499.7 549.8,501.2 557.0,502.1 565.3,502.8 604.3,504.1"/>
<polyline points="174.1,333.8 186.7,340.6 195.7,345.7 204.0,350.8 211.6,355.8 217.7,360.2 223.9,365.0 243.7,382.0 248.4,385.4 252.4,387.9 255.3,389.3 258.2,390.5 264.3,392.2 270.4,393.2 280.5,394.0 284.5,394.8 288.1,396.0 291.7,398.0 296.4,401.6 301.1,406.3 305.5,411.2 313.8,421.7 317.4,425.7 321.0,428.7 324.6,430.5 327.8,431.4 331.4,431.6 335.0,431.4 343.7,430.5 348.8,430.6 354.2,431.5 367.5,435.1 371.1,435.7 374.8,435.8 378.7,435.5 383.4,434.7 388.1,433.4 397.1,430.6 401.1,429.7 405.4,429.3 409.0,429.7 411.6,430.4 414.1,431.5 419.5,434.6 424.9,438.6 438.3,449.5 442.6,452.6 446.9,455.4 451.3,457.9 455.2,459.9 459.2,461.5 463.2,462.9 467.2,463.9 471.8,464.8 491.3,467.5 508.7,471.8 515.9,473.0 519.8,473.1 523.5,472.8 536.1,470.5 540.4,470.0 544.0,469.8 547.6,470.2 552.0,471.4 557.0,473.8 562.4,477.2 572.9,484.6 577.2,487.4 581.6,489.9 585.5,491.5 587.7,492.1 589.9,492.4 592.0,492.5 594.2,492.3 598.5,491.0 604.3,488.4"/>
<polyline points="174.1,340.5 190.7,343.6 204.7,346.6 218.8,350.1 232.2,353.9 241.2,356.9 249.5,360.1 258.2,363.9 273.7,371.4 278.4,373.2 282.4,374.2 286.3,374.7 289.9,374.4 294.3,373.5 304.0,370.4 308.3,369.4 313.0,368.9 317.7,369.1 323.1,370.0 328.9,371.6 335.8,374.1 355.3,382.0 361.4,383.9 367.2,385.2 373.7,386.2 380.9,386.7 388.1,386.9 404.0,386.8 411.6,387.1 418.4,387.8 424.6,389.0 428.2,390.0 431.8,391.3 438.6,394.5 446.2,399.1 463.5,411.0 471.8,416.2 476.9,419.0 481.6,421.4 486.3,423.4 490.6,424.9 498.6,427.0 507.6,428.4 516.6,429.1 540.4,430.0 547.6,430.7 554.5,431.9 563.5,434.0 573.6,437.1 586.6,441.5 604.3,447.9"/>
<polyline points="174.1,331.5 187.8,330.7 197.5,330.9 202.2,331.4 206.6,332.1 211.2,333.2 215.9,334.6 222.4,336.8 229.7,339.7 262.5,354.6 271.9,358.6 280.5,362.0 293.9,366.6 319.2,374.1 329.6,377.5 339.4,381.2 365.0,391.8 372.9,394.7 379.8,396.6 387.0,398.2 394.6,399.3 403.3,400.1 424.9,401.6 440.4,403.1 478.7,407.6 488.1,408.9 496.4,410.3 505.8,412.3 515.2,414.8 524.5,417.8 548.0,425.4 562.4,429.6 580.1,434.0 604.3,439.4"/>
<polyline points="174.1,340.2 180.6,333.9 185.6,329.4 190.0,326.1 194.3,323.4 198.3,321.7 202.2,320.7 206.6,320.3 211.2,320.7 216.3,321.8 220.6,323.3 225.7,325.6 238.3,332.2 244.8,335.4 250.9,337.8 256.7,339.4 261.8,340.2 267.2,340.4 272.6,340.0 286.3,338.3 290.7,338.2 294.6,338.4 299.7,339.5 305.1,341.4 310.5,343.9 321.3,350.0 326.0,352.4 330.7,354.3 335.4,355.6 340.1,356.3 344.8,356.3 349.1,355.8 359.6,354.2 364.3,353.8 369.0,354.1 373.3,355.0 378.0,356.7 383.1,359.3 387.7,362.4 398.2,369.9 403.3,373.0 408.0,375.2 412.3,376.5 416.6,377.0 421.3,376.8 426.4,375.8 436.1,373.1 440.4,372.2 445.1,371.7 449.8,371.9 454.5,372.9 459.6,374.8 464.6,377.5 476.2,384.7 481.2,387.5 486.6,389.9 492.1,391.4 495.7,391.9 499.6,392.1 504.0,391.9 517.7,390.9 522.4,391.0 526.7,391.4 531.0,392.2 535.7,393.5 550.5,398.7 555.9,400.4 561.4,401.7 566.8,402.4 574.7,402.7 593.5,401.8 604.3,401.8"/>
<polyline points="174.1,334.0 186.0,326.2 191.8,323.0 194.6,321.9 197.5,321.3 200.1,321.1 202.9,321.3 206.6,322.3 210.5,324.1 213.8,326.1 221.7,331.4 227.1,334.5 231.1,336.2 235.1,337.3 239.4,337.9 243.7,338.0 248.4,337.5 262.5,335.5 266.8,335.3 271.2,335.5 276.2,336.4 281.3,337.9 286.7,340.1 297.9,345.3 302.6,347.3 307.6,349.0 312.7,350.2 317.7,350.9 322.8,351.0 327.8,350.7 339.0,349.7 344.8,349.5 350.2,349.8 355.3,350.5 363.2,352.4 378.7,357.5 386.3,359.7 395.3,361.4 413.4,363.5 422.0,365.0 430.7,367.2 447.7,372.6 455.2,374.4 459.9,375.2 465.0,375.8 484.5,376.7 488.8,377.3 493.1,378.1 498.2,379.6 503.6,381.7 519.1,389.3 524.2,391.5 528.9,393.2 533.2,394.3 538.6,394.9 544.0,394.9 549.1,394.3 560.6,392.5 566.0,392.0 570.7,392.2 575.4,392.9 580.5,394.4 585.5,396.6 604.3,407.0"/>
<polyline points="174.1,331.0 181.3,328.4 186.7,327.0 191.8,326.3 196.8,326.3 200.4,326.7 204.0,327.5 208.7,328.9 217.7,332.1 223.9,333.6 229.3,334.7 238.0,335.5 258.5,336.1 264.3,336.7 270.1,337.7 277.3,339.5 284.9,342.0 291.4,344.5 307.3,351.1 315.9,354.4 323.5,356.8 331.4,358.9 341.5,361.1 366.1,365.6 393.9,371.3 426.7,377.4 440.1,380.3 451.3,383.1 479.1,390.8 508.3,398.5 541.1,408.1 553.8,411.3 560.3,412.6 567.1,413.7 592.8,416.3 604.3,418.2"/>
<polyline points="174.1,332.0 181.3,328.5 187.4,326.2 192.8,324.8 198.3,324.3 201.9,324.4 206.2,324.9 217.4,326.9 243.0,330.8 251.3,332.5 259.3,334.9 266.8,337.8 286.3,346.2 292.5,348.3 297.9,349.7 303.6,350.6 309.4,350.9 315.9,350.7 328.6,349.5 334.3,349.2 340.5,349.3 346.2,350.1 352.0,351.5 358.1,353.7 363.6,356.1 376.6,362.4 383.1,365.1 389.2,367.0 395.0,368.0 400.0,368.3 405.4,368.2 410.5,367.6 421.7,366.0 427.4,365.5 432.9,365.6 437.9,366.2 443.7,367.6 449.5,369.9 455.6,372.9 468.2,380.0 473.6,382.8 479.4,385.2 484.8,386.9 490.3,387.8 496.0,388.2 501.8,387.9 513.4,386.7 518.4,386.4 523.5,386.4 528.5,386.9 534.6,388.3 540.8,390.6 546.9,393.5 559.2,400.2 564.2,402.8 570.0,405.2 575.1,406.8 581.2,407.9 587.3,408.1 593.8,407.6 604.3,406.0"/>
<polyline points="174.1,340.0 181.3,334.7 184.2,332.9 187.1,331.4 189.6,330.4 192.5,329.5 195.4,329.0 198.3,328.7 216.3,329.2 219.9,329.5 222.8,329.9 225.7,330.5 228.9,331.6 241.9,336.5 245.5,337.5 248.8,338.0 252.0,338.0 255.3,337.8 265.4,335.7 268.6,335.3 271.9,335.1 275.1,335.4 278.7,336.3 282.4,337.7 294.6,344.2 300.0,346.5 305.8,348.1 317.7,349.7 323.5,351.1 329.3,353.4 341.5,359.5 344.8,360.8 347.7,361.5 350.6,362.0 353.5,362.1 357.1,362.0 367.5,360.9 371.1,361.0 374.4,361.4 377.3,362.2 380.5,363.4 392.8,369.5 398.6,371.6 401.5,372.3 404.7,372.8 417.0,373.2 422.8,374.0 428.5,375.8 440.4,380.5 443.3,381.4 446.2,381.9 449.5,382.2 453.1,382.0 463.9,380.2 467.5,379.9 471.1,379.9 474.4,380.4 477.3,381.2 480.5,382.5 491.7,388.0 496.7,390.1 499.6,390.9 502.9,391.6 515.2,393.0 520.9,394.3 526.7,396.4 539.0,402.3 542.2,403.5 545.1,404.2 548.4,404.6 552.0,404.5 555.6,404.0 566.0,401.8 569.3,401.5 572.5,401.5 575.8,402.0 579.0,402.8 589.9,406.4 594.2,407.6 598.9,408.3 604.3,408.5"/>
<polyline points="174.1,330.0 183.8,329.1 191.8,328.8 199.3,329.1 208.4,330.1 230.0,333.1 243.4,335.5 253.8,338.1 274.4,344.0 284.5,346.3 294.6,347.5 315.6,348.7 320.2,349.2 324.6,350.0 330.0,351.3 335.4,353.1 341.2,355.3 357.8,362.3 363.2,364.1 368.3,365.5 373.3,366.5 378.7,367.1 395.0,367.8 400.7,368.2 406.2,369.0 411.6,370.3 416.3,371.9 421.0,373.8 436.1,381.2 441.2,383.4 446.2,385.3 450.9,386.6 456.0,387.6 461.4,388.0 466.4,388.1 477.6,387.8 483.0,388.0 488.1,388.6 492.8,389.7 497.8,391.4 503.2,393.8 519.1,402.5 524.2,405.1 528.9,407.0 533.2,408.3 538.6,409.2 544.0,409.4 549.8,409.0 560.6,407.3 565.3,406.8 570.4,406.7 575.4,407.2 580.8,408.4 586.3,410.3 591.3,412.7 604.3,419.3"/>
<polyline points="174.1,336.1 185.3,330.7 189.2,329.2 193.2,328.0 196.8,327.3 200.4,327.1 204.0,327.3 208.0,327.9 212.3,328.8 230.7,333.6 250.6,337.3 258.5,339.0 265.7,340.9 282.0,345.5 290.3,347.6 299.3,349.3 317.4,352.1 325.7,353.8 334.7,356.3 353.1,362.2 361.8,364.4 370.1,366.0 389.2,368.3 398.2,369.9 406.9,372.0 424.2,377.4 432.5,379.7 441.9,381.5 461.0,383.8 470.0,385.4 478.7,387.5 497.1,393.0 505.4,394.9 514.1,396.3 531.8,398.3 539.7,399.7 549.4,402.2 568.2,408.7 576.9,411.2 585.9,413.1 604.3,415.9"/>
<polyline points="174.1,339.1 179.5,335.2 184.9,331.8 190.3,329.2 195.4,327.3 200.4,326.1 205.8,325.6 211.6,325.5 217.4,326.1 220.6,326.8 224.2,327.8 241.9,334.5 246.6,336.0 251.3,337.2 255.6,338.0 260.0,338.5 278.4,339.7 282.7,340.3 287.0,341.4 291.0,342.7 295.0,344.2 312.3,352.3 316.6,353.9 321.0,355.1 325.3,355.9 330.0,356.2 344.4,355.9 349.1,356.1 353.8,356.5 358.1,357.4 362.1,358.6 366.1,360.2 383.1,367.8 387.4,369.3 391.4,370.3 395.7,371.0 400.4,371.2 405.4,370.9 417.0,369.6 422.0,369.2 427.8,369.3 433.6,369.9 439.7,371.1 457.8,375.4 464.3,376.5 478.7,378.4 487.0,380.2 491.7,381.7 496.4,383.6 510.5,390.2 515.2,392.3 519.5,393.8 523.8,394.9 528.5,395.6 533.2,395.8 537.5,395.6 547.3,394.9 552.0,394.8 556.3,395.1 560.3,395.8 565.0,397.1 570.0,399.2 585.5,407.4 591.7,410.3 597.8,412.3 604.3,413.5"/>
<polyline points="174.1,327.2 180.9,325.7 183.8,325.5 186.7,325.5 191.8,326.3 203.3,329.4 206.2,329.8 209.1,329.8 212.0,329.4 214.9,328.6 222.8,325.0 226.8,323.6 230.7,323.0 234.3,323.2 238.0,324.3 241.6,326.1 245.5,328.7 254.2,335.5 257.8,338.1 261.8,340.3 265.7,341.9 269.0,342.6 272.6,342.8 276.2,342.7 287.4,341.5 291.0,341.5 294.6,341.9 297.9,342.7 301.5,343.8 313.8,349.0 319.5,351.0 326.0,352.5 339.4,353.9 345.5,355.0 352.0,357.1 365.0,362.4 370.4,364.0 373.7,364.5 377.3,364.8 381.2,364.7 392.1,364.0 395.7,364.2 398.9,364.7 402.2,365.6 405.8,367.2 409.8,369.3 420.6,376.0 424.2,377.7 427.4,378.8 431.4,379.3 433.6,379.2 435.7,378.8 440.4,377.3 449.1,373.3 453.1,371.8 457.0,371.0 459.2,370.9 461.0,371.1 464.6,372.1 468.2,373.9 472.2,376.5 480.1,382.8 483.8,385.4 487.7,387.7 491.3,389.0 494.9,389.4 498.6,389.2 502.5,388.2 511.2,385.0 514.8,383.9 518.8,383.3 522.4,383.5 526.0,384.5 530.0,386.3 533.9,388.7 545.1,396.4 549.1,398.5 552.7,399.9 556.3,400.7 560.3,400.9 563.9,400.7 574.7,399.5 578.3,399.5 581.6,399.8 585.2,400.5 588.8,401.5 604.3,407.3"/>
<polyline points="174.1,336.1 182.7,333.5 186.7,332.8 190.3,332.3 193.9,332.1 197.5,332.2 205.5,333.2 217.4,335.6 244.5,340.3 253.8,342.3 265.4,345.6 290.3,353.8 296.4,355.6 302.2,356.9 309.1,358.0 315.9,358.7 323.5,359.1 344.8,359.4 352.0,360.0 358.9,361.0 365.4,362.5 372.2,364.5 379.4,367.0 400.7,375.1 407.6,377.2 414.1,378.8 421.0,380.0 427.8,380.8 435.0,381.2 456.7,381.8 463.5,382.5 470.4,383.5 477.3,385.0 484.5,387.0 491.7,389.4 513.4,397.1 520.6,399.3 527.4,401.0 534.3,402.4 541.5,403.4 566.8,405.9 577.6,407.3 589.9,409.8 604.3,413.7"/>
<polyline points="174.1,336.1 182.7,332.2 193.9,326.9 198.6,325.0 201.9,324.1 204.7,323.6 207.6,323.5 210.5,323.7 214.1,324.7 217.7,326.4 222.1,329.3 231.5,336.4 236.5,339.6 240.8,341.7 245.2,343.0 248.8,343.5 252.4,343.6 256.4,343.4 265.4,342.1 269.4,341.8 273.7,341.8 278.0,342.3 281.6,343.2 285.2,344.4 289.6,346.3 302.6,352.4 306.9,353.9 310.9,355.0 314.8,355.6 318.8,355.8 323.1,355.7 335.8,354.9 339.7,355.0 343.7,355.5 347.7,356.2 352.0,357.5 370.8,364.9 375.5,366.4 380.2,367.5 384.1,368.1 388.1,368.5 404.3,368.9 412.6,369.6 419.9,370.7 439.4,374.5 458.1,376.9 464.6,377.9 470.0,379.1 475.5,380.6 498.9,387.9 517.3,392.5 523.5,394.1 531.0,396.6 546.9,402.7 554.5,404.9 559.6,405.9 565.0,406.4 570.0,406.5 581.9,406.2 588.8,406.7 592.4,407.3 596.0,408.1 604.3,410.9"/>
<polyline points="174.1,332.6 180.2,330.6 187.1,328.9 217.4,322.2 222.8,321.9 227.8,322.2 234.0,323.6 240.5,325.9 247.3,329.3 261.1,337.3 267.2,340.5 273.7,343.2 276.9,344.2 280.2,344.9 285.6,345.5 291.0,345.5 297.1,344.7 310.5,342.1 316.3,341.3 322.8,341.0 329.3,341.5 334.3,342.4 339.4,343.9 345.2,346.0 362.5,353.0 368.3,354.8 373.7,356.0 379.1,356.7 384.9,357.0 391.4,356.7 405.4,355.5 411.9,355.1 419.1,355.2 426.0,356.0 434.3,357.6 454.9,363.2 465.7,365.4 476.2,366.7 498.9,368.2 504.7,369.0 510.1,369.9 520.6,372.5 543.7,379.9 555.6,383.1 566.8,385.3 591.7,389.0 604.3,391.5"/>
<polyline points="174.1,330.9 187.8,331.8 206.2,332.5 212.0,333.2 217.4,334.3 221.0,335.7 224.6,337.4 241.2,346.3 249.9,350.3 258.2,353.2 274.4,357.7 282.0,360.1 289.6,363.2 304.4,369.9 310.9,372.4 316.6,374.0 322.4,375.0 327.5,375.5 339.0,376.1 344.1,376.6 348.8,377.6 353.5,379.1 357.8,380.9 362.1,383.1 376.2,391.8 381.2,394.7 386.3,396.9 391.4,398.5 396.8,399.2 402.2,399.0 407.6,398.2 418.8,395.5 423.8,394.6 429.3,394.1 434.3,394.1 438.6,394.6 443.0,395.4 459.2,399.7 466.1,401.2 473.6,402.3 489.2,403.6 496.4,404.6 504.0,406.1 518.8,409.6 526.0,410.8 530.7,411.2 535.4,411.3 540.4,411.0 554.9,409.6 559.2,409.5 563.5,409.8 568.6,410.8 574.0,412.5 579.4,414.9 589.9,420.1 594.6,422.3 599.6,424.1 604.3,425.3"/>
<polyline points="174.1,333.8 186.3,332.2 194.3,331.7 197.9,331.9 201.5,332.3 205.1,332.9 209.1,333.9 215.6,336.0 231.5,342.1 240.1,345.1 249.1,347.9 270.4,353.8 282.4,357.7 294.3,362.5 321.0,374.6 328.2,377.5 335.4,380.0 348.0,383.7 372.2,389.4 397.9,396.2 408.0,398.6 417.3,400.2 426.7,401.3 435.0,401.8 454.5,402.4 465.0,403.2 475.8,404.6 498.6,408.5 509.7,410.0 520.6,411.0 543.3,412.3 553.1,413.3 564.6,415.0 591.0,420.4 604.3,422.6"/>
<polyline points="174.1,331.3 182.7,328.0 188.1,326.6 191.0,326.2 193.6,326.3 196.1,326.6 198.3,327.2 202.6,329.3 207.3,332.6 211.6,336.4 219.5,344.0 226.0,349.4 231.1,352.8 235.8,355.2 240.1,356.7 245.2,357.8 250.6,358.4 262.1,359.1 267.6,359.6 273.7,360.7 279.5,362.3 284.5,364.3 289.6,366.6 295.0,369.5 312.7,379.6 318.8,382.6 324.6,385.1 333.6,388.4 357.4,395.8 384.1,405.9 389.9,407.7 395.0,408.9 401.5,410.1 408.3,410.6 414.8,410.7 430.7,410.3 440.1,410.7 448.7,411.7 467.9,414.7 472.9,415.2 477.6,415.4 483.4,415.2 489.5,414.4 506.9,410.7 512.3,409.7 517.3,409.3 522.4,409.4 525.6,409.7 528.9,410.4 532.1,411.3 535.7,412.5 542.6,415.6 555.2,422.4 560.6,425.0 566.4,427.3 571.8,428.7 574.7,429.2 578.0,429.4 581.2,429.4 584.5,429.1 590.6,428.1 604.3,425.0"/>
<polyline points="174.1,330.3 182.0,330.5 188.5,331.3 194.6,332.8 201.1,335.3 238.7,353.3 260.0,364.1 268.6,368.1 274.0,370.3 279.8,372.3 302.2,378.9 306.9,380.6 311.6,382.7 317.0,385.4 322.4,388.7 339.7,400.5 346.6,404.8 350.2,406.6 353.8,408.2 357.4,409.4 360.7,410.2 365.7,411.0 371.5,411.1 376.9,410.6 392.4,408.7 397.5,408.4 402.2,408.6 406.9,409.1 411.9,409.9 427.1,413.6 432.5,414.7 437.9,415.4 443.3,415.6 448.4,415.3 453.8,414.5 471.5,410.3 478.3,409.0 484.8,408.3 491.7,408.2 498.9,408.8 514.8,410.9 522.7,411.6 530.7,412.0 547.3,412.2 555.6,412.7 565.3,414.1 581.9,417.7 588.8,418.9 596.4,419.6 604.3,419.4"/>
</g>
<g clip-path="url(#cBR)" fill="none" stroke="#1f77b4" stroke-opacity="0.5" stroke-width="3.35" stroke-linejoin="round" stroke-linecap="square">
<polyline points="663.8,345.4 680.8,347.3 693.0,348.4 701.7,348.6 709.3,348.1 715.8,347.0 721.9,345.1 726.6,343.1 737.1,337.7 742.1,335.7 744.6,335.1 746.8,334.8 749.0,334.8 751.1,335.1 753.3,335.8 755.8,336.9 758.4,338.4 760.9,340.3 766.3,345.0 776.4,355.1 780.7,359.2 785.1,362.6 788.7,364.7 792.7,366.1 797.0,366.8 801.0,366.9 810.3,366.7 814.7,367.0 818.6,367.8 822.6,369.1 827.7,371.4 833.1,374.5 838.9,378.3 852.6,387.9 856.5,390.4 860.1,392.3 864.5,394.0 868.5,395.0 872.4,395.3 883.6,395.2 886.9,395.6 890.1,396.6 893.4,398.2 897.0,400.5 908.5,409.3 912.1,411.8 915.4,413.7 918.6,415.2 921.1,415.8 923.3,416.0 925.8,415.9 928.4,415.3 933.1,413.6 943.9,408.4 946.4,407.5 948.9,406.9 951.5,406.6 953.6,406.7 955.8,407.1 958.3,407.9 963.0,410.2 968.4,413.9 973.8,418.3 991.2,432.8 1011.0,447.7 1018.2,453.9 1035.6,469.8 1044.2,476.8 1054.0,483.5 1074.2,496.2 1094.0,509.1"/>
<polyline points="663.8,329.7 669.6,333.3 673.9,336.9 676.1,339.2 677.9,341.5 681.5,347.2 684.4,353.0 687.3,359.7 700.3,394.4 704.2,404.1 707.8,412.3 712.2,421.1 716.1,428.3 720.1,434.4 724.1,439.5 726.6,442.4 729.5,445.2 732.0,447.3 734.9,449.3 740.0,452.1 749.7,456.2 753.3,457.9 757.3,460.3 761.3,463.3 766.7,468.2 775.0,476.2 803.1,505.3 811.8,513.8 817.2,518.5 822.3,522.3 826.9,525.3 832.0,527.9 838.5,530.5 845.7,532.6 853.7,534.1 862.3,535.1 871.0,535.6 880.7,535.6 893.0,535.2 910.0,534.3 926.6,533.0 941.0,531.1 958.3,527.8 990.4,520.5 1001.6,518.2 1008.1,517.1 1014.3,516.4 1020.0,515.9 1025.5,515.8 1031.2,516.0 1037.4,516.5 1043.9,517.4 1051.1,518.7 1067.0,522.3 1094.0,529.3"/>
<polyline points="663.8,345.4 684.7,356.4 692.7,360.1 699.9,363.1 706.4,365.5 713.2,367.6 734.5,373.2 740.0,374.8 746.1,377.1 751.5,379.8 755.8,382.5 760.2,385.8 765.2,390.3 780.7,404.9 785.8,408.9 791.6,412.9 797.7,416.5 812.5,424.5 822.3,430.1 832.4,436.2 850.0,447.5 857.6,452.0 864.8,455.9 880.7,463.4 888.7,467.8 899.9,475.2 927.6,495.4 934.5,500.0 940.6,503.8 946.8,507.3 952.5,510.1 958.7,512.8 964.5,515.0 971.0,516.9 977.8,518.5 984.7,519.6 991.5,520.1 998.8,520.3 1006.0,520.0 1013.2,519.3 1020.8,518.1 1028.3,516.5 1035.9,514.5 1043.5,512.2 1051.8,509.3 1060.1,506.1 1069.5,502.2 1094.0,491.1"/>
<polyline points="663.8,342.7 666.3,333.9 668.1,328.7 669.9,325.1 671.4,323.5 672.1,323.2 673.2,323.4 676.1,324.6 679.3,326.9 682.9,330.2 686.9,334.5 691.2,340.0 695.9,346.7 701.3,355.0 710.7,370.5 736.0,414.1 743.2,426.0 750.1,436.8 756.2,446.0 762.0,454.1 767.8,461.8 773.5,469.0 780.7,477.3 789.4,486.1 798.8,494.7 807.8,502.0 815.4,507.3 822.6,511.6 830.6,515.4 839.2,518.8 842.1,519.4 845.4,519.6 848.6,519.3 852.2,518.5 855.5,517.4 859.1,515.7 862.7,513.4 865.9,511.0 868.8,508.4 872.1,505.1 878.2,497.7 884.7,488.7 896.6,470.6 901.7,463.3 907.1,456.2 912.5,450.0 915.7,446.9 919.0,444.1 922.2,441.7 925.5,439.7 929.1,437.8 932.7,436.2 936.7,434.8 940.6,433.7 952.5,432.0 966.6,428.3 972.4,427.1 978.2,426.6 983.6,427.1 987.6,428.0 992.3,429.6 1007.8,436.3 1015.4,439.1 1021.8,441.0 1036.3,444.7 1043.5,447.0 1050.0,449.5 1063.7,455.4 1070.6,457.8 1075.6,459.2 1081.0,460.2 1086.8,460.8 1094.0,461.1"/>
<polyline points="663.8,333.4 668.1,328.5 671.4,325.7 673.2,324.6 674.6,324.1 676.1,323.9 677.5,323.9 680.0,324.4 682.6,325.2 685.5,326.4 688.3,327.9 694.5,332.0 701.0,337.5 706.0,342.5 711.1,348.0 716.5,354.3 722.6,362.0 734.2,377.4 759.8,413.4 771.4,429.1 781.5,442.1 793.0,455.7 802.4,465.8 812.5,476.2 822.6,486.1 831.3,494.0 838.9,500.4 845.7,505.6 852.6,510.0 855.1,511.4 857.3,512.3 859.4,512.9 862.0,513.1 864.5,513.0 866.6,512.5 869.2,511.5 872.1,510.0 874.6,508.3 877.5,506.0 882.9,500.9 888.7,494.5 894.8,486.9 913.9,462.2 920.4,454.6 926.2,448.5 932.7,442.7 935.9,440.2 939.2,438.0 942.4,436.2 945.3,434.9 948.6,433.8 951.5,433.2 955.8,432.9 967.7,434.0 972.8,434.1 978.2,433.9 983.6,433.5 1004.5,430.3 1009.2,429.9 1012.1,430.0 1015.4,430.3 1018.6,430.9 1021.8,431.8 1025.5,433.0 1029.4,434.7 1033.4,436.7 1037.7,439.2 1046.8,445.3 1066.2,460.0 1075.3,466.3 1080.3,469.5 1085.0,472.1 1089.7,474.4 1094.0,476.3"/>
<polyline points="663.8,320.9 667.8,323.7 671.0,325.4 673.9,326.4 677.9,327.0 680.0,327.9 682.2,329.2 685.5,331.6 688.7,334.5 692.3,338.1 695.9,342.1 703.1,351.0 711.4,362.3 743.9,409.9 751.9,421.2 759.4,431.5 767.8,442.2 775.7,451.9 783.6,460.9 791.2,468.9 799.5,477.0 808.2,484.7 816.8,491.8 824.8,497.8 832.0,502.5 838.9,506.4 845.7,509.6 852.9,512.3 859.1,514.1 872.4,517.4 874.6,517.7 877.1,517.8 881.1,517.2 885.1,515.9 889.4,513.7 893.7,510.8 898.4,506.9 903.1,502.3 907.8,497.2 912.8,491.1 921.9,478.8 941.4,450.3 946.1,444.0 950.0,439.1 954.7,434.2 959.0,430.5 963.0,428.1 965.2,427.2 967.0,426.7 969.9,426.4 977.8,426.5 988.3,427.4 1008.9,429.6 1015.4,429.9 1026.5,430.2 1032.3,431.0 1038.1,432.2 1046.0,434.9 1054.3,438.6 1062.3,442.9 1082.5,454.9 1088.6,458.1 1094.0,460.5"/>
<polyline points="663.8,336.9 668.5,330.6 672.1,326.8 673.9,325.4 675.7,324.5 677.2,324.1 679.0,324.0 682.9,324.4 686.9,325.1 690.9,326.2 694.8,327.8 698.8,329.6 703.1,332.1 707.5,334.9 711.8,338.1 718.3,343.6 725.2,350.1 732.0,357.3 739.6,365.9 753.3,382.8 779.3,416.8 801.7,445.2 809.6,454.8 816.5,462.7 823.0,469.8 829.1,476.0 836.0,482.4 842.5,488.0 849.3,493.2 856.5,498.1 864.1,502.6 874.6,508.3 884.7,513.3 894.8,517.9 905.3,522.1 915.0,525.5 924.4,528.1 933.8,530.1 943.2,531.5 953.3,532.5 965.5,533.2 984.3,534.0 994.1,533.9 1008.9,532.2 1022.2,530.0 1050.7,524.5 1064.4,522.5 1070.9,521.9 1077.1,521.6 1094.0,521.7"/>
<polyline points="663.8,322.1 667.4,324.4 669.9,325.7 672.5,326.4 675.7,326.7 677.5,327.1 680.0,328.2 682.2,329.7 685.1,332.4 688.3,336.4 691.2,340.8 694.5,346.6 697.4,352.5 700.3,359.0 706.8,375.4 712.9,392.6 728.4,437.8 733.5,451.7 737.8,462.9 742.5,474.1 747.2,484.2 751.9,493.2 756.6,501.1 760.9,507.4 765.6,513.2 770.3,518.1 775.3,522.4 780.7,526.0 786.9,529.3 793.4,532.0 799.9,534.0 803.8,534.9 807.8,535.5 811.8,535.9 816.1,536.1 822.3,535.9 841.0,533.7 850.8,533.2 856.2,533.3 861.6,533.7 877.1,535.8 884.0,536.5 887.9,536.3 891.9,535.3 896.2,533.3 900.6,530.5 905.3,526.7 910.3,521.9 915.0,516.9 920.1,511.0 948.9,475.2 958.0,464.5 965.5,455.9 972.8,448.4 979.3,442.3 985.0,437.8 990.1,434.8 994.1,433.1 998.0,432.1 1004.9,431.6 1011.7,431.7 1016.8,432.1 1022.2,432.8 1039.2,436.3 1045.3,437.4 1051.4,438.0 1057.6,438.1 1063.0,437.6 1068.8,436.8 1086.8,432.6 1094.0,431.3"/>
<polyline points="663.8,340.1 668.5,332.1 671.7,327.6 673.5,325.8 675.0,324.7 676.8,323.9 678.2,323.7 682.9,324.0 688.0,324.8 693.0,326.0 698.1,327.8 703.1,330.1 708.2,332.9 713.2,336.0 718.7,339.9 725.5,345.4 732.7,351.9 740.3,359.4 748.3,367.9 761.3,382.8 784.7,411.3 798.1,427.0 828.0,460.9 836.0,469.6 842.8,476.8 848.2,482.1 853.3,486.7 858.0,490.6 862.7,494.1 866.3,496.6 871.3,499.6 876.4,502.3 882.2,505.0 896.2,510.7 924.8,521.7 935.6,525.6 942.8,527.8 949.3,529.5 955.8,530.9 962.3,531.9 968.8,532.5 975.6,532.9 1000.9,533.5 1027.3,534.8 1039.9,535.0 1053.3,534.6 1081.0,532.0 1087.9,531.5 1094.0,531.4"/>
<polyline points="663.8,323.8 668.5,327.2 672.1,329.3 675.3,330.5 679.7,331.2 682.2,332.5 684.4,334.3 686.9,336.9 689.4,340.0 692.3,343.9 698.1,353.0 704.6,364.5 711.4,377.7 733.1,420.4 740.3,433.9 747.2,445.9 754.8,458.3 762.3,469.5 769.6,479.1 777.1,488.1 785.1,496.3 792.7,503.3 799.9,508.9 807.5,513.7 815.4,517.8 824.8,521.8 837.8,526.3 849.3,529.7 857.6,531.5 865.9,532.7 872.4,533.1 897.7,534.3 902.0,533.9 906.7,532.9 911.4,531.3 915.7,529.2 919.7,526.7 923.7,523.8 927.6,520.5 932.0,516.4 939.9,507.9 955.8,489.6 963.0,481.5 971.3,473.0 980.7,464.1 993.3,453.0 1003.4,444.8 1007.4,442.0 1011.0,439.7 1014.3,437.9 1017.5,436.5 1020.8,435.4 1023.7,434.9 1028.3,434.6 1033.0,434.7 1041.0,435.6 1058.3,438.8 1063.0,439.3 1067.7,439.4 1072.4,439.1 1077.1,438.4 1094.0,434.7"/>
<polyline points="663.8,319.0 669.2,324.9 671.4,326.7 673.5,328.2 676.1,329.1 681.1,329.5 684.7,330.4 688.3,331.8 692.3,334.1 695.6,336.5 698.8,339.4 702.1,342.8 705.3,346.6 709.3,351.8 713.2,357.6 717.6,364.5 721.9,372.0 731.3,389.5 752.6,432.0 762.7,451.4 768.1,461.0 773.2,469.6 777.9,477.0 784.0,486.1 789.8,493.9 795.2,500.5 800.6,506.3 806.0,511.3 811.4,515.4 816.8,518.7 822.6,521.4 829.1,523.7 836.0,525.5 856.2,530.0 863.0,531.9 877.5,536.4 886.9,538.6 893.4,539.5 899.9,539.7 906.7,539.3 911.4,538.3 915.4,536.9 919.3,535.0 924.0,532.3 929.1,528.8 935.2,524.1 951.1,511.3 959.8,504.6 968.4,498.3 986.8,485.4 995.9,478.7 1003.4,472.7 1019.7,459.2 1026.5,453.7 1033.0,449.2 1038.8,445.9 1043.9,443.8 1048.6,442.5 1054.3,442.0 1060.5,442.0 1066.2,442.5 1072.4,443.5 1094.0,448.3"/>
<polyline points="663.8,330.0 667.8,327.5 669.6,326.7 671.0,326.4 672.8,326.4 675.3,326.7 680.8,328.1 686.5,330.5 692.7,334.0 699.2,338.6 705.7,344.0 711.1,349.1 716.5,354.6 722.3,360.8 728.4,367.9 741.0,383.3 766.7,415.9 778.2,430.3 787.6,441.4 797.3,451.9 807.1,461.8 820.4,474.7 833.4,486.9 842.5,495.0 849.0,500.4 855.1,504.9 860.9,508.5 866.3,511.2 872.4,513.5 879.3,515.3 885.4,516.6 902.0,519.5 912.5,521.9 921.5,524.6 940.3,530.9 948.6,533.2 953.3,534.2 958.0,535.0 963.0,535.5 967.0,535.7 970.6,535.5 974.2,535.1 982.5,533.4 990.1,531.2 1016.8,522.4 1025.5,520.1 1035.2,518.0 1052.9,515.0 1068.8,512.7 1077.4,511.8 1094.0,510.9"/>
<polyline points="663.8,334.5 667.0,328.5 669.2,325.3 671.4,323.1 672.5,322.4 673.5,322.1 675.0,322.2 676.8,322.7 678.6,323.5 680.4,324.5 684.0,327.5 688.0,331.7 691.6,336.4 695.2,341.7 699.2,348.3 703.1,355.4 712.2,373.2 734.2,420.3 745.0,442.2 751.1,453.7 756.9,463.8 762.7,473.1 768.1,481.1 775.0,490.2 782.5,499.1 789.4,506.1 795.9,511.6 802.8,516.4 810.0,520.4 817.6,523.5 826.2,526.2 838.9,529.1 859.8,533.2 870.6,534.9 880.4,535.9 888.7,536.3 914.7,536.0 921.9,535.1 929.1,533.5 935.2,531.4 941.4,528.7 947.5,525.4 954.0,521.4 959.8,517.3 965.9,512.6 988.3,494.0 998.4,486.1 1004.2,482.0 1009.6,478.5 1015.4,475.1 1021.1,472.0 1030.9,467.2 1043.1,461.8 1054.3,457.2 1062.6,454.2 1069.1,452.4 1079.6,450.3 1087.2,449.0 1094.0,448.4"/>
<polyline points="663.8,319.4 669.2,321.7 673.5,323.1 677.2,323.7 682.6,323.9 686.2,324.4 690.1,325.3 694.1,326.7 698.8,329.0 703.5,332.0 708.2,335.7 712.9,340.1 717.9,345.6 723.4,352.2 729.1,360.1 734.9,368.7 740.3,377.2 746.5,387.5 772.4,432.9 785.4,454.7 791.6,464.3 797.0,472.3 802.4,479.6 807.8,486.3 813.9,493.1 820.4,499.3 826.9,504.7 834.5,510.2 846.1,517.5 860.5,525.7 869.2,530.1 876.8,533.0 882.9,534.6 889.0,535.5 895.5,535.8 902.4,535.4 930.9,531.9 943.5,529.1 954.7,525.8 961.6,523.1 968.1,519.9 974.2,516.3 980.0,512.1 985.4,507.7 991.2,502.4 1010.7,482.7 1018.6,475.2 1022.9,471.6 1026.9,468.7 1030.9,466.1 1034.8,464.0 1038.8,462.2 1043.1,460.8 1047.5,459.8 1051.8,459.1 1055.8,458.9 1060.1,458.9 1072.4,459.9 1078.2,459.9 1085.7,459.3 1094.0,457.8"/>
<polyline points="663.8,329.3 667.8,327.4 670.7,326.9 673.5,327.1 676.8,327.5 680.0,328.2 683.3,329.1 689.4,331.5 695.6,334.7 702.1,338.9 708.6,343.8 714.7,349.1 721.2,355.2 727.7,361.8 734.9,369.6 749.0,385.9 776.4,419.4 783.3,427.5 817.2,466.2 823.7,473.1 829.1,478.4 836.3,484.4 839.9,487.0 843.5,489.2 850.0,492.7 865.9,500.2 872.8,504.3 889.7,515.1 895.2,518.1 900.2,520.4 905.6,522.3 911.0,523.7 933.1,527.6 953.3,532.2 959.0,533.0 964.8,533.0 969.9,532.3 974.9,531.0 980.0,529.2 993.7,524.0 998.0,522.6 1002.4,521.5 1006.3,520.8 1010.7,520.3 1028.3,519.1 1032.7,518.4 1037.0,517.4 1041.3,516.0 1045.7,514.3 1063.7,505.8 1067.7,504.4 1071.7,503.3 1076.4,502.5 1081.0,502.4 1086.5,503.0 1094.0,504.2"/>
<polyline points="663.8,319.9 667.0,325.5 668.5,327.5 669.6,328.7 671.4,329.8 674.3,330.3 676.8,331.5 679.3,333.3 682.2,336.0 684.7,339.0 687.3,342.4 692.7,351.0 698.1,361.1 704.2,373.8 728.0,427.8 733.8,440.3 738.9,450.7 744.6,461.9 750.4,472.2 756.2,481.5 762.0,489.9 767.4,496.8 773.2,503.4 779.3,509.4 784.4,513.4 792.3,518.9 801.7,524.4 811.1,529.1 819.0,532.3 823.7,533.8 828.4,534.8 833.1,535.4 837.8,535.5 841.7,535.2 846.1,534.6 859.8,531.8 864.5,531.0 867.7,530.7 871.7,530.8 876.8,531.3 882.2,532.4 887.6,533.9 900.9,538.1 904.9,539.1 908.9,539.9 913.6,540.4 917.9,540.4 922.2,540.0 926.9,539.2 932.3,537.7 938.1,535.2 943.5,532.4 957.6,524.3 966.3,519.9 973.5,516.9 991.2,510.5 996.6,508.1 1001.3,505.6 1007.4,501.7 1013.9,496.7 1020.0,491.5 1033.0,479.7 1039.5,474.3 1046.0,469.9 1051.8,467.0 1055.4,465.7 1059.0,464.9 1062.6,464.5 1066.6,464.5 1072.0,465.4 1086.8,469.2 1094.0,470.4"/>
<polyline points="663.8,318.0 666.7,322.6 668.9,325.0 670.3,325.8 672.8,326.2 675.3,327.2 678.2,328.8 681.5,331.1 685.1,334.0 688.7,337.4 692.7,341.5 697.0,346.4 703.9,354.7 711.4,364.6 744.3,409.9 759.8,430.3 768.1,440.5 776.1,449.8 785.1,459.6 793.0,467.8 799.2,473.7 805.3,479.1 811.4,484.0 818.3,488.9 838.9,502.5 847.5,508.0 854.7,512.0 861.2,514.8 865.6,516.2 869.5,517.1 886.5,519.5 894.4,521.2 902.4,523.9 918.6,530.8 922.2,532.1 925.8,533.1 930.2,533.8 934.1,534.1 938.1,533.9 942.8,533.3 947.5,532.4 951.1,531.5 964.8,526.7 971.0,524.8 990.4,520.0 995.1,518.5 999.5,516.6 1004.5,513.9 1010.7,509.5 1016.1,505.2 1028.3,494.6 1034.8,489.6 1041.3,485.5 1044.6,483.9 1047.8,482.6 1054.3,480.6 1061.6,479.3 1069.5,478.4 1082.1,477.7 1094.0,476.3"/>
<polyline points="663.8,333.8 669.6,331.2 673.9,329.8 677.9,329.1 681.5,329.2 683.7,329.7 685.8,330.5 690.1,332.7 694.5,335.7 699.2,339.9 703.5,344.4 708.2,350.0 713.2,356.7 718.3,363.9 729.1,380.9 755.5,425.4 768.1,445.7 775.3,456.5 782.5,466.6 789.0,475.1 795.5,482.9 802.8,490.8 809.6,497.3 816.5,503.0 823.7,508.2 830.9,512.5 838.9,516.5 847.9,520.3 859.4,524.6 871.0,528.6 878.9,531.0 886.9,533.1 894.1,534.5 902.0,535.6 910.0,536.0 913.9,535.7 918.3,534.6 922.2,532.9 926.2,530.8 930.5,528.0 935.2,524.4 943.5,517.3 958.3,503.3 965.2,497.0 972.0,491.3 978.2,486.7 984.7,482.6 991.2,479.2 997.3,476.9 1003.4,475.4 1008.1,474.9 1016.1,475.0 1022.6,474.7 1036.6,473.3 1041.3,473.0 1047.8,473.1 1054.3,473.6 1062.6,475.0 1071.3,477.4 1080.0,480.5 1094.0,486.3"/>
<polyline points="663.8,331.1 667.8,328.0 669.2,327.3 670.7,327.0 672.8,327.0 675.7,327.3 680.8,328.5 686.2,330.8 692.0,334.3 697.7,338.8 703.9,344.6 708.9,350.0 714.0,356.0 719.4,363.0 725.2,371.0 736.3,387.5 759.8,424.1 769.9,439.4 783.6,458.9 792.3,470.2 798.4,477.2 804.9,483.9 813.2,491.8 822.6,500.1 829.1,505.4 834.5,509.3 839.9,512.7 845.4,515.4 850.0,517.4 862.7,522.1 873.5,527.0 878.6,529.0 884.3,530.7 889.4,531.3 892.3,531.3 895.2,530.9 898.0,530.2 900.9,529.2 906.0,526.9 919.7,519.7 925.5,517.2 930.2,515.6 936.3,514.2 952.5,511.7 969.9,507.6 973.5,507.1 976.7,506.8 980.3,506.9 984.7,507.4 1002.0,510.7 1008.9,511.6 1015.4,511.8 1029.1,511.3 1035.6,511.8 1039.9,512.7 1044.6,514.2 1048.9,516.1 1061.6,522.2 1065.5,523.7 1069.5,524.8 1073.5,525.5 1077.8,525.8 1094.0,525.0"/>
<polyline points="663.8,321.4 668.5,323.7 672.1,325.0 675.3,325.7 679.7,326.0 682.2,326.4 685.1,327.2 688.3,328.6 692.0,330.8 695.9,333.9 699.9,337.7 703.9,342.2 707.8,347.3 712.2,353.5 716.5,360.3 721.2,368.3 730.9,386.4 752.6,429.3 762.3,447.8 767.8,457.5 773.2,466.7 777.9,474.1 783.6,482.7 789.0,490.0 794.1,496.0 799.2,501.3 804.6,506.3 810.0,510.5 816.1,514.7 822.6,518.4 830.9,522.7 841.4,527.7 850.4,531.1 858.7,533.4 862.7,534.1 866.3,534.5 872.8,534.3 879.3,533.4 887.2,531.3 902.0,526.5 908.2,524.8 915.0,523.5 921.5,523.1 926.9,523.4 932.7,524.0 959.0,528.9 965.9,529.8 972.0,530.4 982.1,530.6 1005.2,529.5 1016.8,529.6 1028.0,530.6 1056.1,534.3 1067.7,535.2 1073.5,535.2 1079.2,535.0 1094.0,533.7"/>
</g>
<rect x="153.0" y="1.8" width="472.85" height="270.2" fill="none" stroke="#000" stroke-width="4.0"/>
<line x1="153.0" x2="136.0" y1="249.48" y2="249.48" stroke="#000" stroke-width="4.0"/>
<line x1="153.0" x2="136.0" y1="136.90" y2="136.90" stroke="#000" stroke-width="4.0"/>
<line x1="153.0" x2="136.0" y1="24.32" y2="24.32" stroke="#000" stroke-width="4.0"/>
<line x1="174.07" x2="174.07" y1="272.0" y2="255.4" stroke="#000" stroke-width="4.0"/>
<line x1="318.44" x2="318.44" y1="272.0" y2="255.4" stroke="#000" stroke-width="4.0"/>
<line x1="462.82" x2="462.82" y1="272.0" y2="255.4" stroke="#000" stroke-width="4.0"/>
<line x1="607.19" x2="607.19" y1="272.0" y2="255.4" stroke="#000" stroke-width="4.0"/>
<rect x="642.2" y="1.8" width="472.89999999999986" height="270.2" fill="none" stroke="#000" stroke-width="4.0"/>
<line x1="642.2" x2="658.8000000000001" y1="249.48" y2="249.48" stroke="#000" stroke-width="4.0"/>
<line x1="642.2" x2="658.8000000000001" y1="136.90" y2="136.90" stroke="#000" stroke-width="4.0"/>
<line x1="642.2" x2="658.8000000000001" y1="24.32" y2="24.32" stroke="#000" stroke-width="4.0"/>
<line x1="663.80" x2="663.80" y1="272.0" y2="255.4" stroke="#000" stroke-width="4.0"/>
<line x1="808.17" x2="808.17" y1="272.0" y2="255.4" stroke="#000" stroke-width="4.0"/>
<line x1="952.55" x2="952.55" y1="272.0" y2="255.4" stroke="#000" stroke-width="4.0"/>
<line x1="1096.92" x2="1096.92" y1="272.0" y2="255.4" stroke="#000" stroke-width="4.0"/>
<rect x="153.0" y="288.8" width="472.85" height="269.7" fill="none" stroke="#000" stroke-width="4.0"/>
<line x1="153.0" x2="136.0" y1="536.02" y2="536.02" stroke="#000" stroke-width="4.0"/>
<line x1="153.0" x2="136.0" y1="423.65" y2="423.65" stroke="#000" stroke-width="4.0"/>
<line x1="153.0" x2="136.0" y1="311.28" y2="311.28" stroke="#000" stroke-width="4.0"/>
<line x1="174.07" x2="174.07" y1="558.5" y2="575.5" stroke="#000" stroke-width="4.0"/>
<line x1="318.44" x2="318.44" y1="558.5" y2="575.5" stroke="#000" stroke-width="4.0"/>
<line x1="462.82" x2="462.82" y1="558.5" y2="575.5" stroke="#000" stroke-width="4.0"/>
<line x1="607.19" x2="607.19" y1="558.5" y2="575.5" stroke="#000" stroke-width="4.0"/>
<rect x="642.2" y="288.8" width="472.89999999999986" height="269.7" fill="none" stroke="#000" stroke-width="4.0"/>
<line x1="642.2" x2="658.8000000000001" y1="536.02" y2="536.02" stroke="#000" stroke-width="4.0"/>
<line x1="642.2" x2="658.8000000000001" y1="423.65" y2="423.65" stroke="#000" stroke-width="4.0"/>
<line x1="642.2" x2="658.8000000000001" y1="311.28" y2="311.28" stroke="#000" stroke-width="4.0"/>
<line x1="663.80" x2="663.80" y1="558.5" y2="575.5" stroke="#000" stroke-width="4.0"/>
<line x1="808.17" x2="808.17" y1="558.5" y2="575.5" stroke="#000" stroke-width="4.0"/>
<line x1="952.55" x2="952.55" y1="558.5" y2="575.5" stroke="#000" stroke-width="4.0"/>
<line x1="1096.92" x2="1096.92" y1="558.5" y2="575.5" stroke="#000" stroke-width="4.0"/>
<g font-family='"Liberation Serif", serif' font-size="100" fill="#000">
<text transform="translate(47.87,37.52) scale(0.4142,0.3882)">1.00</text>
<text transform="translate(48.16,150.21) scale(0.4096,0.3940)">0.75</text>
<text transform="translate(48.16,262.51) scale(0.4096,0.3940)">0.50</text>
<text transform="translate(20.87,147.24) scale(0.4441,0.4774) rotate(-90)" font-style="italic">p</text>
<text transform="translate(47.87,324.62) scale(0.4142,0.3882)">1.00</text>
<text transform="translate(48.16,437.31) scale(0.4096,0.3940)">0.75</text>
<text transform="translate(48.16,549.61) scale(0.4096,0.3940)">0.50</text>
<text transform="translate(20.87,434.34) scale(0.4441,0.4774) rotate(-90)" font-style="italic">p</text>
<text transform="translate(163.91,617.81) scale(0.4214,0.3925)">0</text>
<text transform="translate(297.83,617.81) scale(0.4111,0.3925)">50</text>
<text transform="translate(432.24,617.83) scale(0.4066,0.3868)">100</text>
<text transform="translate(576.24,617.83) scale(0.4066,0.3868)">150</text>
<text transform="translate(653.51,617.81) scale(0.4214,0.3925)">0</text>
<text transform="translate(787.43,617.81) scale(0.4111,0.3925)">50</text>
<text transform="translate(921.84,617.83) scale(0.4066,0.3868)">100</text>
<text transform="translate(1065.84,617.83) scale(0.4066,0.3868)">150</text>
<text transform="translate(373.50,684.42) scale(0.6238,0.6238)" font-style="italic">n</text>
<text transform="translate(862.80,684.42) scale(0.6238,0.6238)" font-style="italic">n</text>
<text transform="translate(430.59,52.97) scale(0.4429,0.4310)" font-style="italic">θ</text>
<text transform="translate(918.59,52.97) scale(0.4429,0.4310)" font-style="italic">θ</text>
<text transform="translate(418.29,340.07) scale(0.4429,0.4310)" font-style="italic">θ</text>
<text transform="translate(907.79,340.07) scale(0.4429,0.4310)" font-style="italic">θ</text>
<text transform="translate(452.04,57.92) scale(0.3522,0.2806)">full</text>
<text transform="translate(940.04,57.92) scale(0.3522,0.2806)">full</text>
<text transform="translate(439.74,345.02) scale(0.3522,0.2806)">full</text>
<text transform="translate(929.24,345.02) scale(0.3522,0.2806)">full</text>
<text transform="translate(514.80,56.82) scale(0.6191,0.4440)">=</text>
<text transform="translate(1002.80,56.82) scale(0.6191,0.4440)">=</text>
<text transform="translate(502.50,343.92) scale(0.6191,0.4440)">=</text>
<text transform="translate(992.00,343.92) scale(0.6191,0.4440)">=</text>
<text transform="translate(561.00,53.13) scale(0.4738,0.4373)">0</text>
<text transform="translate(1050.03,52.99) scale(0.4667,0.4085)" font-style="italic">π</text>
<text transform="translate(549.49,340.00) scale(0.4275,0.4462)">2</text>
<text transform="translate(571.54,339.87) scale(0.4647,0.4255)" font-style="italic">π</text>
<text transform="translate(1038.26,340.25) scale(0.4488,0.4485)">3</text>
<text transform="translate(1061.54,339.59) scale(0.4569,0.4128)" font-style="italic">π</text>
</g>
</svg></body></html>
